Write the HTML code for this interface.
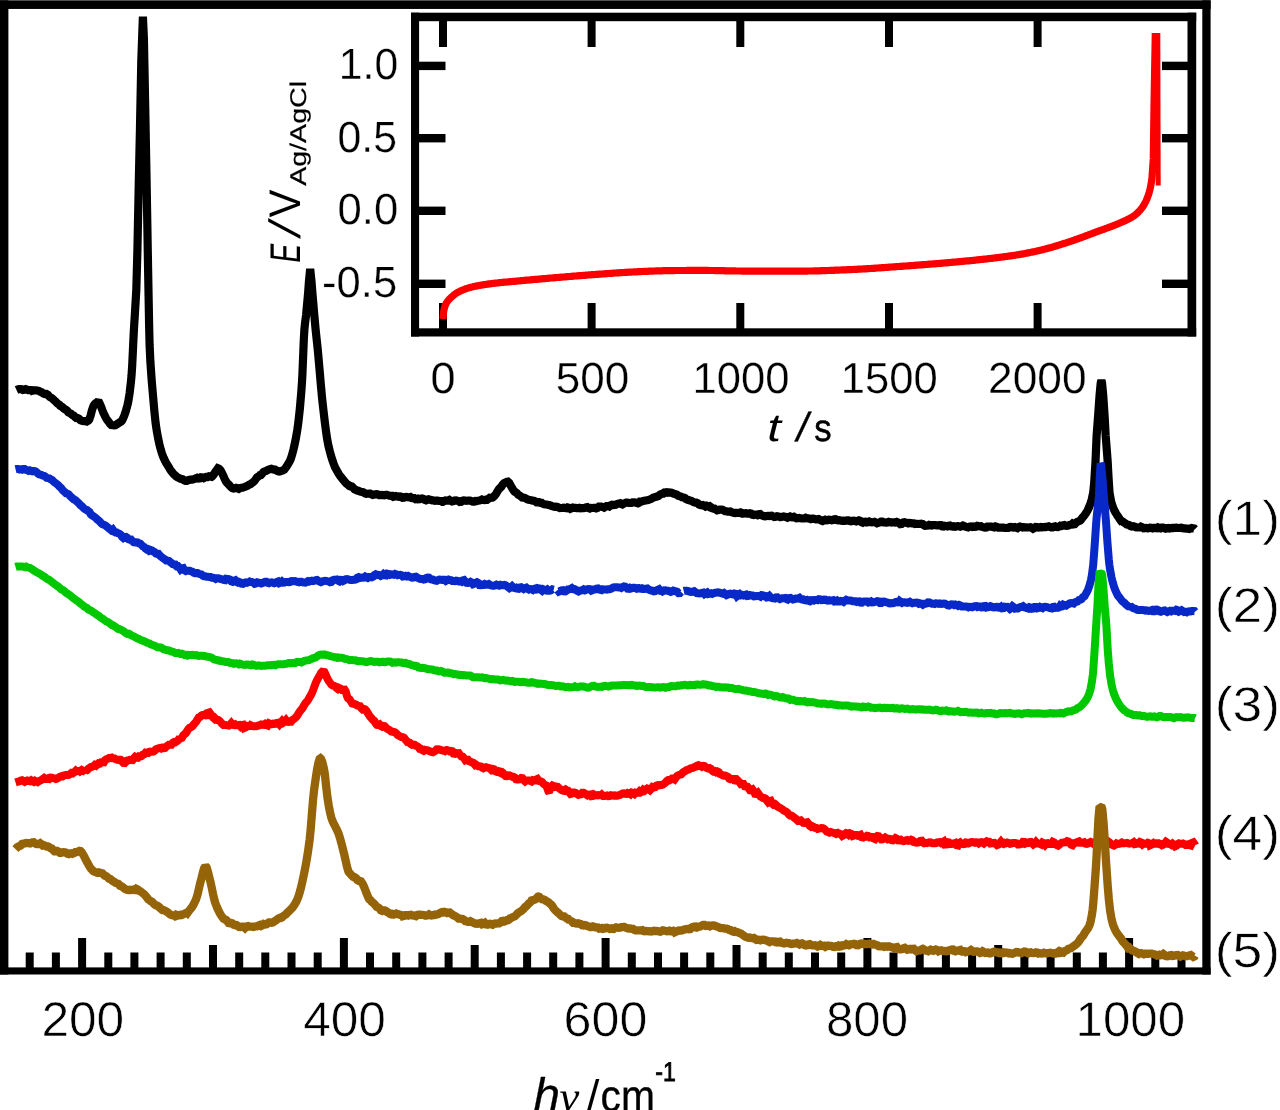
<!DOCTYPE html>
<html lang="en">
<head>
<meta charset="utf-8">
<title>Raman spectra</title>
<style>html,body{margin:0;padding:0;background:#fff}body{width:1280px;height:1110px;overflow:hidden}svg{display:block}</style>
</head>
<body>
<svg width="1280" height="1110" viewBox="0 0 1280 1110">
<rect width="1280" height="1110" fill="#fff"/>
<g fill="#000"><rect x="0" y="0.33" width="8.40" height="974.17"/><rect x="1202.3" y="0.33" width="8.30" height="974.17"/><rect x="0" y="0.33" width="1210.60" height="8.62"/><rect x="0" y="967.4" width="1210.60" height="7.10"/><rect x="411.0" y="12.7" width="8.10" height="323.80"/><rect x="1187.5" y="12.7" width="8.70" height="323.80"/><rect x="411.0" y="12.7" width="785.20" height="8.50"/><rect x="411.0" y="328.3" width="785.20" height="8.20"/></g>
<g fill="#000"><rect x="25.7" y="952.5" width="8" height="15.5"/><rect x="51.9" y="952.5" width="8" height="15.5"/><rect x="78.1" y="938" width="8" height="30"/><rect x="104.3" y="952.5" width="8" height="15.5"/><rect x="130.4" y="952.5" width="8" height="15.5"/><rect x="156.6" y="952.5" width="8" height="15.5"/><rect x="182.8" y="952.5" width="8" height="15.5"/><rect x="209.0" y="945" width="8" height="23"/><rect x="235.2" y="952.5" width="8" height="15.5"/><rect x="261.3" y="952.5" width="8" height="15.5"/><rect x="287.5" y="952.5" width="8" height="15.5"/><rect x="313.7" y="952.5" width="8" height="15.5"/><rect x="339.9" y="938" width="8" height="30"/><rect x="366.0" y="952.5" width="8" height="15.5"/><rect x="392.2" y="952.5" width="8" height="15.5"/><rect x="418.4" y="952.5" width="8" height="15.5"/><rect x="444.6" y="952.5" width="8" height="15.5"/><rect x="470.7" y="945" width="8" height="23"/><rect x="496.9" y="952.5" width="8" height="15.5"/><rect x="523.1" y="952.5" width="8" height="15.5"/><rect x="549.2" y="952.5" width="8" height="15.5"/><rect x="575.4" y="952.5" width="8" height="15.5"/><rect x="601.6" y="938" width="8" height="30"/><rect x="627.8" y="952.5" width="8" height="15.5"/><rect x="654.0" y="952.5" width="8" height="15.5"/><rect x="680.1" y="952.5" width="8" height="15.5"/><rect x="706.3" y="952.5" width="8" height="15.5"/><rect x="732.5" y="945" width="8" height="23"/><rect x="758.7" y="952.5" width="8" height="15.5"/><rect x="784.8" y="952.5" width="8" height="15.5"/><rect x="811.0" y="952.5" width="8" height="15.5"/><rect x="837.2" y="952.5" width="8" height="15.5"/><rect x="863.4" y="938" width="8" height="30"/><rect x="889.5" y="952.5" width="8" height="15.5"/><rect x="915.7" y="952.5" width="8" height="15.5"/><rect x="941.9" y="952.5" width="8" height="15.5"/><rect x="968.1" y="952.5" width="8" height="15.5"/><rect x="994.2" y="945" width="8" height="23"/><rect x="1020.4" y="952.5" width="8" height="15.5"/><rect x="1046.6" y="952.5" width="8" height="15.5"/><rect x="1072.8" y="952.5" width="8" height="15.5"/><rect x="1098.9" y="952.5" width="8" height="15.5"/><rect x="1125.1" y="938" width="8" height="30"/><rect x="1151.3" y="952.5" width="8" height="15.5"/><rect x="1177.5" y="952.5" width="8" height="15.5"/><rect x="439.0" y="20" width="8" height="27"/><rect x="439.0" y="303" width="8" height="27"/><rect x="587.6" y="20" width="8" height="27"/><rect x="587.6" y="303" width="8" height="27"/><rect x="736.3" y="20" width="8" height="27"/><rect x="736.3" y="303" width="8" height="27"/><rect x="885.0" y="20" width="8" height="27"/><rect x="885.0" y="303" width="8" height="27"/><rect x="1033.6" y="20" width="8" height="27"/><rect x="1033.6" y="303" width="8" height="27"/><rect x="418" y="61.7" width="27.5" height="8.4"/><rect x="1162" y="61.7" width="27" height="8.4"/><rect x="418" y="134.0" width="27.5" height="8.4"/><rect x="1162" y="134.0" width="27" height="8.4"/><rect x="418" y="206.6" width="27.5" height="8.4"/><rect x="1162" y="206.6" width="27" height="8.4"/><rect x="418" y="279.6" width="27.5" height="8.4"/><rect x="1162" y="279.6" width="27" height="8.4"/></g>
<g fill="none" stroke-linejoin="miter" stroke-miterlimit="1.6" stroke-linecap="butt">
<path d="M16.5,390.0 17.8,389.4 19.1,389.2 20.4,389.1 21.7,389.2 23.0,390.0 24.0,389.8 25.6,389.2 26.9,389.6 28.2,390.1 29.5,390.2 30.8,390.0 32.1,390.1 32.5,390.7 33.4,390.4 34.7,390.3 36.0,390.4 37.3,390.5 38.6,390.8 39.9,391.6 41.2,392.1 42.5,392.8 43.8,393.7 45.0,394.0 46.4,393.9 47.7,394.6 49.0,396.2 50.3,397.3 51.6,398.0 52.9,399.0 54.2,400.3 55.5,401.4 56.8,402.9 58.1,404.0 59.4,404.8 60.0,405.7 60.7,406.1 62.0,406.9 63.3,408.0 64.6,409.1 65.9,409.8 67.2,410.8 68.5,412.4 69.8,413.0 71.1,413.8 72.4,415.1 73.7,415.6 75.0,416.9 76.3,418.0 77.6,418.1 78.9,418.7 80.2,420.0 81.5,420.6 82.8,421.0 84.0,421.2 85.4,421.1 86.7,421.5 88.0,420.8 88.5,420.4 89.3,419.5 90.6,415.6 91.9,410.5 93.5,405.8 94.5,404.4 95.8,403.0 97.1,402.3 98.0,401.4 98.4,401.0 99.7,403.4 101.0,406.5 102.3,410.0 103.5,413.0 104.9,415.9 106.2,418.4 107.5,420.4 108.0,420.9 108.8,421.9 110.1,423.8 111.4,425.1 113.0,425.3 114.0,425.4 115.3,425.2 116.6,424.5 117.9,423.5 119.2,422.7 120.5,421.8 121.0,421.6 121.8,420.9 123.1,418.5 124.4,415.4 125.7,411.5 127.0,406.9 127.5,405.0 128.3,401.4 129.6,393.3 130.9,382.2 131.5,376.0 132.2,365.4 133.5,337.8 134.0,328.0 134.8,315.6 136.3,290.0 137.4,250.9 138.7,187.0 139.5,150.0 140.0,127.1 141.3,60.9 142.9,16.6 143.9,38.6 145.2,106.3 146.0,150.0 146.5,176.2 147.8,252.5 148.6,297.0 149.1,324.3 149.6,345.0 150.4,362.1 151.7,380.5 152.7,392.0 154.3,410.5 155.6,422.9 156.3,428.0 156.9,431.6 158.2,438.7 159.5,444.7 160.8,449.7 162.1,453.9 162.5,454.9 163.4,457.3 164.7,460.1 166.0,462.7 167.3,464.7 168.6,466.8 170.0,469.3 171.2,471.0 172.5,472.7 173.8,474.3 175.0,475.2 176.4,476.5 177.7,477.5 179.0,478.0 180.3,478.6 181.6,479.1 182.9,479.4 184.2,480.3 185.5,480.8 186.0,480.8 186.8,480.8 188.1,480.2 189.4,479.9 190.7,479.7 192.0,479.6 193.3,479.3 194.6,478.9 195.9,478.3 197.2,477.8 198.5,478.5 200.0,478.3 201.1,477.3 202.4,477.5 203.7,478.2 205.0,477.5 206.3,476.9 207.6,477.0 208.9,476.3 210.2,476.6 211.5,476.9 212.0,476.5 212.8,475.8 214.1,473.9 215.4,471.8 216.0,470.9 216.7,470.0 218.0,468.2 218.8,468.5 219.3,468.9 220.6,470.4 222.0,473.0 223.2,475.5 224.5,478.6 226.0,481.5 227.1,482.9 228.4,484.2 229.7,485.6 231.0,487.1 232.3,488.2 233.6,488.6 235.0,488.4 236.2,487.8 237.5,488.2 238.8,488.8 240.1,488.1 241.4,487.7 242.7,487.6 244.0,487.2 245.3,486.8 246.6,486.0 247.5,485.8 247.9,485.4 249.2,484.6 250.5,484.1 251.8,483.0 253.1,482.2 254.4,481.1 255.7,479.2 257.0,477.3 258.3,476.6 259.6,475.7 260.0,475.2 260.9,475.1 262.2,473.7 263.5,471.9 264.8,471.3 266.1,471.0 267.4,470.1 268.7,469.6 270.0,469.2 271.3,468.8 272.6,469.2 273.9,469.7 275.2,469.6 276.5,470.4 277.8,471.2 279.1,471.5 280.4,471.3 281.0,471.0 281.7,470.9 283.0,470.3 284.3,469.5 285.6,467.9 286.9,466.0 288.2,463.9 289.5,461.7 290.0,460.6 290.8,458.7 292.1,454.7 293.4,449.7 294.5,445.0 296.0,437.7 297.3,429.9 298.0,425.0 298.6,420.3 299.9,408.3 301.2,393.1 302.0,382.0 302.5,372.4 303.8,339.9 304.4,329.3 305.1,322.7 306.1,315.0 307.7,297.7 308.2,292.0 309.0,280.8 310.2,268.9 311.6,282.7 312.3,292.0 312.9,298.8 314.3,315.0 315.6,329.3 316.8,340.6 317.8,350.0 319.4,367.8 320.7,383.1 322.0,397.3 322.5,402.0 323.3,409.1 324.6,420.2 325.9,430.5 327.2,439.3 328.5,446.0 329.8,451.3 331.1,456.1 332.4,460.2 333.7,463.9 335.0,467.2 336.3,469.6 337.5,471.7 338.9,474.2 340.2,476.1 341.5,477.7 342.8,479.3 344.1,480.9 345.4,482.5 346.7,483.8 348.0,484.7 349.3,485.9 350.0,486.2 350.6,486.1 351.9,486.6 353.2,487.9 354.5,489.4 355.8,489.9 357.1,490.5 358.4,490.8 359.7,491.3 361.0,491.7 362.3,492.0 363.6,492.5 364.9,493.4 366.2,493.9 367.5,493.7 368.8,493.5 370.1,493.5 371.4,494.4 372.7,494.9 374.0,494.6 375.3,494.4 376.6,494.2 377.9,494.4 379.2,495.2 380.5,495.2 381.8,494.9 383.1,495.1 384.4,495.3 385.7,494.9 387.0,494.9 388.3,495.3 389.6,495.7 390.9,495.9 392.5,495.9 393.5,496.8 394.8,496.6 396.1,496.1 397.4,496.4 398.7,496.7 400.0,496.4 401.3,496.7 402.6,497.8 403.9,497.7 405.2,497.1 406.5,497.0 407.8,497.3 409.1,497.4 410.4,497.0 411.7,498.0 413.0,498.2 414.3,498.2 415.6,499.2 416.9,499.0 417.5,498.8 418.2,499.4 419.5,499.3 420.8,498.6 422.1,498.4 423.4,498.8 424.7,499.9 426.0,500.3 427.3,499.7 428.6,499.3 429.9,499.6 431.2,500.1 432.5,500.4 433.8,500.5 435.1,500.8 436.4,500.7 437.7,500.7 439.0,501.0 440.3,501.0 441.6,501.1 442.5,501.8 442.9,501.8 444.2,501.2 445.5,500.5 446.8,500.6 448.1,500.5 449.4,499.9 450.7,500.8 452.0,501.5 453.3,501.2 454.6,500.4 455.9,500.3 457.2,500.7 458.5,501.0 459.8,502.0 461.1,501.8 462.4,500.8 463.7,500.4 465.0,500.6 466.3,500.9 467.6,500.6 468.9,500.7 470.2,500.7 471.5,501.0 472.8,501.7 474.1,501.7 475.0,501.2 475.4,501.0 476.7,501.1 478.0,500.7 479.3,500.5 480.6,500.1 481.9,499.5 483.2,500.0 484.5,500.1 485.8,499.6 487.1,499.7 488.4,498.7 489.7,497.7 491.0,497.9 492.5,497.7 493.6,496.8 494.9,495.4 496.2,493.6 497.5,491.3 498.8,489.2 500.0,488.0 501.4,486.6 502.7,484.5 504.0,483.2 505.3,482.6 506.6,482.2 507.0,481.8 507.9,481.6 509.2,482.8 510.5,485.2 511.8,487.5 513.1,489.7 514.4,491.5 515.0,491.9 515.7,492.3 517.0,493.2 518.3,494.8 519.6,495.5 520.9,496.4 522.2,497.5 523.5,497.6 525.0,498.0 526.1,498.7 527.4,499.3 528.7,499.7 530.0,499.9 531.3,500.3 532.6,500.6 533.9,500.7 535.2,501.3 536.5,502.3 537.8,502.2 539.1,502.2 540.4,502.8 541.7,502.8 542.5,503.5 543.0,503.7 544.3,504.3 545.6,504.5 546.9,504.5 548.2,505.0 549.5,505.0 550.8,505.6 552.1,506.1 553.4,506.5 554.7,506.8 556.0,506.6 557.3,506.9 558.6,507.5 559.9,508.1 561.2,508.0 562.5,507.9 563.8,507.7 565.1,508.1 566.4,508.3 567.5,507.5 569.0,507.9 570.3,508.8 571.6,508.3 572.9,507.6 574.2,507.8 575.5,507.8 576.8,508.2 578.1,508.2 579.4,507.8 580.7,508.3 582.0,508.2 583.3,508.1 584.6,508.0 585.9,507.4 587.2,507.1 588.5,508.1 589.8,508.5 591.1,507.9 592.4,508.0 593.7,507.9 595.0,507.8 596.3,508.3 597.6,507.9 598.9,506.7 600.0,506.7 601.5,506.6 602.8,507.0 604.1,507.6 605.4,506.8 606.7,505.9 608.0,505.8 609.3,506.4 610.6,505.3 611.9,504.8 613.2,505.1 614.5,504.9 615.8,504.7 617.1,504.0 618.4,503.6 620.0,503.2 621.0,504.0 622.3,504.5 623.6,503.7 624.9,503.1 626.2,502.5 627.5,502.5 628.8,503.0 630.1,503.0 631.4,502.9 632.7,502.4 634.0,502.3 635.3,502.6 636.6,502.9 637.9,503.3 639.2,502.7 640.0,501.7 640.5,501.7 641.8,501.5 643.1,501.0 644.4,500.8 645.7,500.4 647.0,500.2 648.3,500.0 649.6,499.5 650.9,499.0 652.2,498.3 653.5,497.5 655.0,497.1 656.1,496.8 657.4,496.3 658.7,495.8 660.0,494.7 661.3,494.0 662.6,493.5 663.5,493.0 663.9,493.2 665.2,492.4 666.5,492.2 667.8,492.7 668.5,492.6 669.1,492.4 670.4,492.6 671.7,492.8 673.0,493.3 673.5,493.5 674.3,493.9 675.6,494.2 676.9,494.7 678.2,495.7 679.5,496.1 680.8,496.5 682.1,497.3 683.4,497.5 685.0,498.1 686.0,499.1 687.3,499.6 688.6,500.1 689.9,500.4 691.2,500.7 692.5,501.6 693.8,502.3 695.1,502.7 696.4,502.6 697.7,503.2 699.0,504.5 700.3,505.1 701.6,505.3 702.9,505.0 704.2,505.6 705.5,506.5 706.8,505.8 708.1,506.3 709.4,507.0 710.0,506.6 710.7,507.1 712.0,508.2 713.3,508.6 714.6,508.6 715.9,509.5 717.2,510.3 718.5,510.0 719.8,509.6 721.1,509.5 722.4,509.7 723.7,510.5 725.0,511.1 726.3,511.2 727.6,511.7 728.9,511.6 730.2,511.5 731.5,512.2 732.8,512.6 734.1,512.9 735.4,513.1 736.7,512.8 738.0,513.0 739.3,512.9 740.6,512.4 741.9,513.1 742.5,513.7 743.2,513.7 744.5,513.3 745.8,513.2 747.1,513.7 748.4,513.6 749.7,513.2 751.0,513.5 752.3,514.7 753.6,515.0 754.9,514.6 756.2,514.6 757.5,515.1 758.8,514.3 760.1,514.1 761.4,515.3 762.7,515.7 764.0,516.2 765.3,516.4 766.6,516.0 767.9,515.8 769.2,516.1 770.5,515.9 771.8,515.7 773.1,516.3 774.4,517.0 775.7,516.8 777.0,516.2 778.3,516.4 779.6,517.0 780.0,516.9 780.9,517.0 782.2,516.8 783.5,516.4 784.8,516.7 786.1,517.2 787.4,517.7 788.7,517.0 790.0,516.5 791.3,517.2 792.6,517.3 793.9,516.8 795.2,517.5 796.5,518.3 797.8,518.2 799.1,518.0 800.4,518.2 801.7,518.4 803.0,518.5 804.3,518.4 805.6,517.8 806.9,518.3 808.2,518.4 809.5,518.7 810.8,519.1 812.1,518.7 813.4,518.7 814.7,519.0 816.0,519.3 817.3,519.3 818.6,519.0 819.9,519.7 821.2,520.6 822.5,521.0 823.8,520.3 825.1,519.8 826.4,520.4 827.7,520.3 829.0,519.6 830.0,519.7 831.6,520.3 832.9,520.0 834.2,519.4 835.5,519.3 836.8,520.1 838.1,520.4 839.4,520.2 840.7,520.6 842.0,520.9 843.3,520.7 844.6,520.8 845.9,520.6 847.2,520.4 848.5,520.4 849.8,521.0 851.1,521.3 852.4,520.8 853.7,520.7 855.0,521.0 856.3,521.4 857.6,520.9 858.9,520.4 860.2,520.9 861.5,522.1 862.8,522.6 864.1,521.8 865.4,521.7 866.7,522.5 868.0,522.2 869.3,521.5 870.6,522.0 871.9,522.4 873.2,522.2 874.5,521.9 875.8,522.4 877.1,523.2 878.4,522.8 879.7,522.5 881.0,521.7 882.3,521.7 883.6,522.4 884.9,522.4 886.2,522.7 887.5,522.5 888.8,521.8 890.1,522.1 891.4,522.5 892.7,522.3 894.0,522.4 895.3,522.5 896.6,522.0 897.9,522.5 899.2,523.4 900.0,523.4 900.5,524.0 901.8,523.8 903.1,522.6 904.4,522.3 905.7,522.6 907.0,522.8 908.3,523.3 909.6,522.9 910.9,523.1 912.2,523.3 913.5,523.4 914.8,524.0 916.1,523.8 917.4,523.9 918.7,524.0 920.0,523.9 921.3,523.6 922.6,523.9 923.9,525.1 925.2,525.9 926.5,525.8 927.8,525.5 929.1,524.9 930.4,525.2 931.7,525.5 933.0,525.1 934.3,525.1 935.6,525.2 936.9,525.3 938.2,525.3 939.5,525.1 940.8,525.1 942.1,526.3 943.4,526.5 944.7,525.7 946.0,525.9 947.3,526.3 948.6,525.8 950.0,525.6 951.2,526.3 952.5,526.5 953.8,526.3 955.1,526.7 956.4,526.5 957.7,526.1 959.0,526.2 960.3,526.7 961.6,526.3 962.9,525.6 964.2,526.1 965.5,526.6 966.8,527.0 968.1,527.3 969.4,526.6 970.7,526.4 972.0,526.9 973.3,526.5 974.6,526.8 975.9,526.7 977.2,525.9 978.5,526.1 979.8,526.4 981.1,526.3 982.4,527.0 983.7,527.3 985.0,527.7 986.3,527.6 987.6,526.6 988.9,526.5 990.2,526.7 991.5,526.6 992.8,527.0 994.1,527.3 995.4,526.5 996.7,526.9 998.0,527.6 999.3,527.5 1000.6,527.6 1001.9,527.7 1003.2,527.7 1004.5,527.9 1005.8,528.0 1007.1,527.8 1008.4,527.8 1009.7,527.1 1011.0,527.0 1012.5,527.4 1013.6,527.5 1014.9,527.1 1016.2,527.6 1017.5,528.1 1018.8,527.1 1020.1,526.5 1021.4,526.8 1022.7,527.4 1024.0,527.2 1025.3,527.3 1026.6,527.3 1027.9,527.5 1029.2,527.4 1030.5,527.2 1031.8,527.8 1033.1,528.7 1034.4,528.0 1035.7,527.0 1037.0,527.1 1038.3,527.5 1039.6,527.4 1040.9,527.0 1042.2,527.3 1043.5,527.2 1044.8,526.9 1046.1,527.0 1047.4,526.6 1048.7,526.3 1050.0,526.9 1051.3,527.4 1052.6,527.4 1053.9,526.6 1055.2,526.3 1056.5,527.0 1057.8,527.1 1059.1,526.6 1060.0,526.0 1060.4,526.2 1061.7,526.1 1063.0,525.3 1064.3,525.0 1065.6,525.7 1066.9,525.8 1068.2,525.5 1069.5,525.0 1070.8,524.6 1072.1,524.2 1072.5,523.8 1073.4,524.4 1074.7,524.2 1076.0,522.7 1077.3,521.8 1078.6,521.3 1079.9,520.7 1081.0,519.7 1082.5,517.6 1083.8,516.1 1085.1,514.4 1086.0,513.0 1086.4,512.5 1087.7,510.2 1089.0,507.3 1089.5,506.0 1090.3,503.9 1091.6,500.1 1093.2,492.6 1094.2,482.7 1095.5,462.0 1096.6,436.0 1098.1,416.0 1099.6,395.0 1100.7,383.2 1101.4,380.3 1102.0,382.4 1103.2,395.0 1104.6,416.0 1105.7,436.0 1107.2,455.2 1107.7,462.0 1108.5,476.9 1109.5,492.6 1111.1,501.4 1112.5,505.9 1113.7,509.1 1115.0,511.7 1116.0,513.4 1117.6,515.9 1118.9,517.8 1120.2,519.9 1121.0,520.9 1121.5,520.8 1122.8,521.6 1124.1,522.7 1125.4,523.4 1126.7,524.5 1128.0,524.8 1129.3,525.2 1130.0,525.8 1130.6,526.1 1131.9,526.5 1133.2,526.2 1134.5,526.5 1135.8,527.3 1137.1,527.4 1138.4,527.5 1140.0,527.5 1141.0,526.7 1142.3,527.3 1143.6,528.3 1144.9,528.1 1146.2,528.0 1147.5,528.3 1148.8,528.2 1150.0,527.6 1151.4,527.7 1152.7,528.3 1154.0,527.9 1155.3,527.9 1156.6,528.2 1157.9,527.4 1159.2,528.1 1160.5,528.4 1161.8,527.5 1163.1,527.5 1164.4,528.2 1165.7,528.7 1167.0,528.3 1168.3,528.0 1169.6,528.4 1170.9,528.0 1172.2,527.9 1173.5,528.1 1174.8,527.8 1176.1,527.7 1177.4,527.9 1178.7,528.0 1180.0,527.8 1181.3,527.7 1182.6,528.2 1183.9,528.4 1185.2,528.4 1186.5,528.7 1187.8,528.6 1189.1,528.9 1190.4,528.5 1191.7,528.0 1193.0,528.2 1194.3,528.5 1195.0,529.2" stroke="#000000" stroke-width="8.2"/>
<path d="M15.5,469.2 16.8,468.9 18.1,468.9 19.4,469.4 20.7,469.3 22.0,469.7 23.3,468.9 24.6,468.9 25.9,469.8 27.2,470.2 28.5,470.9 29.8,470.3 31.1,470.9 32.5,471.3 33.7,471.0 35.0,471.1 36.3,471.9 37.6,473.3 38.9,474.2 40.2,474.5 41.5,475.0 42.8,475.7 44.1,475.8 45.4,476.7 46.7,477.8 48.0,478.2 49.3,478.4 50.0,478.8 50.6,479.3 51.9,479.9 53.2,481.2 54.5,482.4 55.8,483.2 57.1,484.2 58.4,485.4 59.7,486.9 61.0,487.9 62.3,489.6 63.6,491.0 65.0,492.2 66.2,493.4 67.5,493.8 68.8,494.5 70.1,496.0 71.4,497.3 72.7,498.4 74.0,499.5 75.3,500.1 76.6,501.3 77.9,502.4 79.2,503.7 80.5,505.3 81.8,506.2 83.1,507.5 84.4,508.9 85.7,509.6 87.0,510.0 87.5,510.6 88.3,511.1 89.6,512.2 90.9,514.5 92.2,515.5 93.5,516.3 94.8,517.2 96.1,518.2 97.4,519.6 98.7,520.5 100.0,521.8 101.3,523.4 102.6,524.3 103.9,524.7 105.2,525.3 106.5,526.4 107.8,527.5 109.1,528.5 110.4,529.5 111.7,530.6 112.5,530.4 113.0,529.9 114.3,531.8 115.6,532.6 116.9,532.6 118.2,533.4 119.5,533.8 120.8,534.7 122.1,536.9 123.4,538.0 124.7,537.2 126.0,537.0 127.3,537.9 128.6,539.3 129.9,539.8 131.2,539.7 132.5,541.1 133.8,542.3 135.1,542.5 136.4,542.3 137.5,542.4 139.0,543.4 140.3,543.7 141.6,545.0 142.9,546.3 144.2,546.9 145.5,548.6 146.8,549.5 148.1,549.0 149.4,549.6 150.0,550.8 150.7,550.6 152.0,550.5 153.3,551.5 154.6,552.1 155.9,553.5 157.2,554.0 158.5,553.9 159.8,555.5 161.1,556.7 162.4,557.7 163.7,558.7 165.0,559.4 166.3,560.5 167.6,560.6 168.9,560.9 170.2,562.2 171.5,563.0 172.8,564.1 174.1,564.3 175.0,564.4 175.4,565.2 176.7,566.3 178.0,566.2 179.3,567.5 180.6,569.4 181.9,568.4 183.2,568.1 184.5,570.4 185.8,571.1 187.1,570.6 188.4,570.7 189.7,570.8 191.0,571.3 192.3,571.7 193.6,572.6 194.9,573.1 196.2,573.0 197.5,573.0 198.8,573.6 200.0,574.1 201.4,574.4 202.7,575.6 204.0,576.2 205.3,576.3 206.6,576.7 207.9,576.8 209.2,576.9 210.5,577.0 211.8,577.7 213.1,577.7 214.4,578.2 215.7,579.0 217.0,578.3 218.3,578.3 219.6,578.6 220.9,579.1 222.2,579.3 223.5,580.0 225.0,580.2 226.1,578.7 227.4,578.9 228.7,579.2 230.0,579.7 231.3,581.3 232.6,581.8 233.9,580.8 235.2,580.3 236.5,582.0 237.8,582.6 239.1,581.9 240.4,582.4 241.7,583.7 243.0,583.9 244.3,582.9 245.6,582.5 246.9,582.8 248.2,582.4 249.5,581.7 250.0,582.0 250.8,582.1 252.1,582.1 253.4,582.6 254.7,583.8 256.0,583.4 257.3,582.3 258.6,582.6 259.9,582.9 261.2,583.5 262.5,583.1 263.8,582.2 265.1,581.7 266.4,581.7 267.7,582.8 269.0,583.2 270.3,582.5 271.6,582.3 272.9,582.8 274.2,583.3 275.0,583.0 275.5,582.6 276.8,582.0 278.1,581.5 279.4,583.1 280.7,582.6 282.0,581.5 283.3,582.6 284.6,582.5 285.9,581.9 287.2,581.9 288.5,582.2 289.8,582.1 291.1,581.1 292.4,581.0 293.7,581.3 295.0,581.1 296.3,581.5 297.6,582.0 298.9,582.3 300.0,581.7 301.5,581.7 302.8,582.4 304.1,582.5 305.4,582.6 306.7,582.0 308.0,581.2 309.3,581.6 310.6,581.1 311.9,580.7 313.2,581.1 314.5,580.8 315.8,580.2 317.1,580.0 318.4,580.8 319.7,581.6 321.0,582.1 322.3,581.6 323.6,581.0 324.9,580.7 326.2,580.9 327.5,581.2 328.8,581.3 330.1,582.2 331.4,581.9 332.5,580.3 334.0,579.8 335.3,579.8 336.6,579.5 337.9,580.7 339.2,581.3 340.5,579.8 341.8,579.9 343.1,581.0 344.4,580.4 345.7,579.3 347.0,579.1 348.3,579.4 349.6,579.7 350.9,579.9 352.2,580.0 353.5,579.8 354.8,579.7 356.1,579.3 357.4,577.7 358.7,577.2 360.0,577.9 361.3,577.6 362.5,577.8 363.9,577.6 365.2,576.6 366.5,577.3 367.8,577.9 369.1,577.1 370.4,577.1 371.7,577.3 373.0,576.8 374.3,575.0 375.6,574.3 376.9,575.1 378.2,574.8 379.5,575.0 380.8,575.9 382.1,575.4 383.4,574.2 384.7,575.3 386.0,575.5 387.3,573.8 388.6,574.1 389.9,574.9 391.2,574.4 392.5,574.5 393.8,574.7 395.1,573.9 396.4,574.3 397.7,575.2 399.0,574.9 400.3,574.8 401.6,575.2 402.9,576.5 404.2,576.4 405.5,575.9 406.8,576.4 408.1,575.9 409.4,576.5 410.7,577.2 412.0,577.7 413.3,577.6 414.6,576.9 415.9,576.7 417.2,577.5 418.5,578.2 419.8,578.8 421.1,578.9 422.4,578.9 423.7,579.6 425.0,579.3 426.3,578.0 427.6,577.5 428.9,577.6 430.2,579.0 431.5,579.4 432.8,579.4 434.1,580.2 435.4,580.5 436.7,580.8 438.0,580.0 439.3,579.5 440.6,579.7 441.9,580.0 443.2,579.8 444.5,579.8 445.8,580.9 447.1,580.2 448.4,579.6 449.7,580.1 451.0,580.2 452.3,581.1 453.6,581.1 454.9,581.2 456.2,580.6 457.5,580.8 458.8,581.4 460.1,581.3 461.4,581.8 462.5,580.4 464.0,580.0 465.3,581.5 466.6,582.8 467.9,582.9 469.2,582.5 470.5,581.8 471.8,582.5 473.1,584.2 474.4,583.7 475.7,582.9 477.0,582.3 478.3,583.0 479.6,585.2 480.9,585.3 482.2,584.8 483.5,584.9 484.8,584.0 486.1,584.5 487.4,584.6 488.7,584.0 490.0,584.9 491.3,585.5 492.6,585.8 493.9,585.7 495.2,585.3 496.5,584.6 497.8,585.2 499.1,585.6 500.0,585.0 500.4,584.8 501.7,585.3 503.0,585.2 504.3,584.9 505.6,585.2 506.9,586.1 508.2,587.2 509.5,588.2 510.8,587.5 512.1,586.3 513.4,587.6 514.7,588.0 516.0,587.6 517.3,588.6 518.6,588.8 519.9,587.5 521.2,587.2 522.5,588.1 523.8,589.0 525.1,588.3 526.4,587.7 527.7,588.8 529.0,589.6 530.3,589.1 531.6,589.2 532.9,589.9 534.2,588.8 535.5,588.4 536.8,589.5 537.5,589.4 538.1,588.2 539.4,588.4 540.7,589.8 542.0,590.7 543.3,589.3 544.6,589.9 545.9,590.4 547.2,589.6 548.5,590.8 549.8,590.8 551.1,590.3 552.4,589.3 553.7,589.6 M557.6,590.0 558.9,591.6 560.2,591.1 561.5,590.4 562.8,590.2 564.1,591.4 565.4,591.5 566.7,590.7 568.0,589.4 569.3,589.3 570.6,588.8 571.9,588.1 573.2,589.2 574.5,589.6 575.0,589.4 575.8,589.9 577.1,590.9 578.4,591.5 579.7,590.6 581.0,590.5 582.3,590.2 583.6,589.4 584.9,590.2 586.2,589.7 587.5,589.1 588.8,589.0 590.1,589.2 591.4,590.6 592.7,590.1 594.0,589.4 595.3,589.3 596.6,588.6 597.9,588.4 599.2,589.6 600.0,591.3 600.5,590.9 601.8,589.3 603.1,589.3 604.4,589.4 605.7,589.4 607.0,589.6 608.3,589.2 609.6,589.2 610.9,588.7 612.2,588.1 613.5,587.4 614.8,587.3 616.1,587.3 617.4,587.3 618.7,587.4 620.0,587.4 621.3,588.0 622.6,587.2 623.9,586.5 625.2,586.7 626.5,587.4 627.5,588.7 629.1,588.8 630.4,587.8 631.7,588.2 633.0,587.7 634.3,587.8 635.6,588.3 636.9,586.4 638.2,588.1 639.5,590.4 640.8,588.8 642.1,588.3 643.4,588.8 644.7,589.0 646.0,588.6 647.3,588.4 648.6,589.5 649.9,590.1 651.2,590.6 652.5,590.7 653.8,591.4 655.1,591.2 656.4,590.3 657.7,589.9 659.0,589.3 660.3,590.9 661.6,591.1 662.5,590.8 662.9,591.2 664.2,590.5 665.5,590.4 666.8,590.7 668.1,590.7 669.4,591.3 670.7,591.9 672.0,591.3 673.3,590.6 674.6,591.0 675.9,591.4 677.2,591.8 678.5,593.2 679.8,593.1 681.1,591.8 M683.7,591.0 685.0,590.7 686.3,590.7 687.6,591.0 688.9,591.3 690.2,591.9 691.5,592.0 692.8,591.6 694.1,591.2 695.4,592.2 696.7,593.1 698.0,593.2 699.3,593.4 700.6,593.3 701.9,592.9 703.2,592.6 704.5,594.0 705.8,593.2 707.1,592.5 708.4,594.0 709.7,593.7 711.0,593.3 712.3,593.8 713.6,593.2 714.9,592.8 716.2,592.8 717.5,592.3 718.8,592.5 720.1,592.8 721.4,593.3 722.7,593.7 724.0,593.0 725.0,593.8 726.6,595.1 727.9,594.6 729.2,593.9 730.5,593.6 731.8,594.2 733.1,594.5 734.4,593.5 735.7,593.8 737.0,596.1 738.3,595.0 739.6,594.1 740.9,595.3 742.2,594.9 743.5,595.5 744.8,595.1 746.1,594.6 747.4,596.0 748.7,595.9 750.0,595.1 751.3,595.4 752.6,595.5 753.9,596.3 755.2,596.2 756.5,596.0 757.8,595.9 759.1,596.0 760.4,596.6 761.7,595.2 763.0,595.3 764.3,596.2 765.6,596.1 766.9,597.5 768.2,597.3 769.5,596.1 770.8,597.5 772.1,598.1 773.4,598.3 774.7,598.5 776.0,597.4 777.3,597.3 778.6,598.5 779.9,599.1 781.2,598.6 782.5,598.2 783.8,598.2 785.1,598.0 786.4,599.1 787.5,599.5 789.0,598.0 790.3,597.9 791.6,598.9 792.9,599.5 794.2,599.1 795.5,598.6 796.8,598.7 798.1,598.3 799.4,597.7 800.7,599.0 802.0,599.5 803.3,599.4 804.6,600.3 805.9,600.5 807.2,600.0 808.5,600.8 809.8,601.2 811.1,600.0 812.4,600.1 813.7,600.6 815.0,599.8 816.3,599.7 817.6,600.1 818.9,599.2 820.2,599.3 821.5,600.2 822.8,600.1 824.1,599.5 825.4,599.6 826.7,600.4 828.0,600.7 829.3,600.2 830.6,600.6 831.9,600.6 833.2,600.2 834.5,601.5 835.8,601.3 837.1,600.5 838.4,601.4 839.7,601.5 841.0,600.9 842.3,601.2 843.6,601.9 844.9,600.8 846.2,599.9 847.5,600.5 848.8,600.4 850.0,600.5 851.4,600.7 852.7,601.3 854.0,601.3 855.3,601.3 856.6,601.9 857.9,601.5 859.2,601.4 860.5,602.6 861.8,602.7 863.1,601.6 864.4,601.5 865.7,601.4 867.0,601.5 868.3,602.4 869.6,601.9 870.9,601.4 872.2,602.4 873.5,602.3 874.8,601.8 876.1,601.6 877.4,601.1 878.7,601.4 880.0,602.9 881.3,602.9 882.6,601.7 883.9,601.6 885.2,601.8 886.5,602.4 887.8,602.6 889.1,603.3 890.4,603.4 891.7,603.1 893.0,603.2 894.3,602.8 895.6,602.0 896.9,601.7 898.2,602.4 899.5,602.3 900.0,601.3 900.8,601.9 902.1,602.8 903.4,602.2 904.7,602.3 906.0,602.5 907.3,602.8 908.6,602.4 909.9,601.8 911.2,602.6 912.5,603.2 913.8,602.9 915.1,602.6 916.4,602.5 917.7,602.8 919.0,603.8 920.3,603.4 921.6,603.7 922.9,604.6 924.2,603.8 925.5,603.8 926.8,603.4 928.1,602.3 929.4,602.4 930.7,603.1 932.0,603.7 933.3,603.7 934.6,604.0 935.9,603.3 937.2,603.5 938.5,603.9 939.8,603.5 941.1,604.0 942.4,603.8 943.7,603.5 945.0,603.6 946.3,604.3 947.6,605.2 948.9,605.5 950.0,604.8 951.5,604.2 952.8,604.3 954.1,605.0 955.4,604.5 956.7,605.0 958.0,605.8 959.3,604.9 960.6,605.4 961.9,606.4 963.2,606.4 964.5,606.5 965.8,606.5 967.1,606.7 968.4,607.3 969.7,606.8 971.0,606.9 972.3,607.2 973.6,606.6 974.9,606.2 976.2,606.1 977.5,607.0 978.8,606.5 980.1,606.5 981.4,607.4 982.7,607.3 984.0,606.1 985.3,606.0 986.6,607.5 987.9,607.2 989.2,607.0 990.5,606.2 991.8,606.6 993.1,607.4 994.4,607.5 995.7,607.0 997.0,606.9 998.3,607.7 999.6,607.8 1000.0,607.4 1000.9,606.8 1002.2,608.3 1003.5,608.2 1004.8,606.8 1006.1,607.0 1007.4,606.9 1008.7,607.6 1010.0,608.9 1011.3,608.0 1012.6,606.3 1013.9,607.2 1015.2,608.6 1016.5,608.4 1017.8,608.5 1019.1,607.6 1020.4,607.0 1021.7,606.8 1023.0,606.2 1024.3,607.3 1025.6,607.6 1026.9,608.3 1028.2,608.6 1029.5,607.2 1030.8,607.6 1032.1,608.8 1033.4,608.6 1034.7,607.1 1036.0,607.1 1037.3,608.3 1038.6,607.9 1039.9,606.9 1041.2,607.6 1042.5,608.1 1043.8,607.0 1045.1,606.8 1046.4,607.0 1047.7,607.3 1049.0,607.7 1050.0,608.1 1051.6,608.4 1052.9,607.0 1054.2,606.8 1055.5,607.9 1056.8,607.8 1058.1,607.7 1059.4,607.1 1060.0,606.1 1060.7,606.7 1062.0,606.4 1063.3,604.7 1064.6,605.3 1066.0,605.6 1067.2,604.7 1068.5,604.1 1069.8,603.3 1071.1,603.1 1072.4,603.2 1073.7,603.5 1075.0,602.2 1076.3,601.8 1077.6,601.5 1078.9,600.0 1080.0,599.9 1081.5,599.1 1082.8,597.3 1084.1,596.5 1084.5,596.2 1085.4,594.6 1086.7,592.4 1088.0,589.7 1089.3,586.1 1090.9,580.3 1091.9,575.0 1093.2,565.0 1094.5,547.8 1094.9,542.0 1095.8,528.5 1096.5,519.0 1097.1,512.9 1098.4,501.7 1098.9,496.0 1099.7,478.2 1100.6,463.4 1101.0,464.3 1102.3,476.6 1103.8,496.0 1104.9,508.1 1105.8,519.0 1106.2,524.5 1107.4,542.0 1108.8,559.4 1109.4,565.0 1110.1,569.8 1111.4,576.8 1112.2,580.3 1112.7,582.2 1114.0,586.7 1115.0,589.4 1116.6,593.0 1117.9,595.6 1118.5,596.4 1119.2,597.2 1120.5,598.8 1121.8,600.7 1123.0,601.8 1124.4,602.7 1125.7,604.3 1127.0,605.4 1128.3,606.3 1129.6,606.4 1130.0,605.4 1130.9,606.4 1132.2,607.6 1133.5,608.2 1134.8,608.6 1136.1,609.1 1137.4,609.9 1138.7,610.1 1139.7,610.1 1141.3,610.1 1142.6,610.1 1143.9,610.2 1145.2,610.6 1146.5,610.4 1147.8,610.8 1149.1,611.0 1150.0,610.7 1150.4,610.7 1151.7,610.2 1153.0,611.3 1154.3,611.3 1155.6,609.7 1156.9,609.6 1158.2,610.1 1159.5,611.5 1160.8,611.8 1162.1,611.2 1163.4,610.7 1164.7,610.5 1166.0,611.3 1167.3,612.0 1168.6,611.4 1169.9,610.9 1171.2,611.4 1172.5,610.6 1173.8,610.5 1175.1,610.9 1176.4,609.8 1177.7,610.2 1179.0,611.6 1180.3,611.1 1181.6,610.3 1182.9,611.2 1184.2,612.0 1185.5,611.8 1186.8,612.3 1188.1,611.6 1189.4,611.3 1190.7,611.5 1192.0,611.0 1193.3,611.1 1194.6,611.2 1195.0,611.7" stroke="#0828c8" stroke-width="8.0"/>
<path d="M15.5,566.9 16.8,566.5 18.1,566.6 19.4,566.5 20.7,566.4 22.0,566.4 23.3,566.8 24.6,567.2 25.0,566.9 25.9,566.6 27.2,567.2 28.5,567.7 29.8,567.9 31.1,568.6 32.4,569.4 33.7,570.4 35.0,571.2 36.3,572.1 37.5,572.7 38.9,573.3 40.2,574.0 41.5,575.0 42.8,576.0 44.1,576.5 45.4,577.6 46.7,578.7 48.0,579.3 49.3,580.0 50.6,580.9 51.9,582.0 53.2,583.1 54.5,584.0 55.8,584.9 57.1,585.9 58.4,586.8 59.7,587.9 61.0,589.2 62.5,589.9 63.6,590.5 64.9,591.7 66.2,592.7 67.5,593.6 68.8,594.5 70.1,595.4 71.4,596.5 72.7,597.7 74.0,598.6 75.3,599.6 76.6,600.5 77.9,601.2 79.2,602.3 80.5,603.6 81.8,604.4 83.1,605.5 84.4,606.6 85.7,607.3 87.0,607.9 87.5,608.6 88.3,609.5 89.6,610.1 90.9,610.6 92.2,611.5 93.5,612.5 94.8,613.2 96.1,614.2 97.4,615.1 98.7,615.8 100.0,617.0 101.3,618.0 102.6,618.7 103.9,619.7 105.2,620.7 106.5,621.4 107.8,622.1 109.1,622.8 110.4,623.9 111.7,624.9 112.5,624.9 113.0,625.1 114.3,626.2 115.6,627.0 116.9,628.0 118.2,628.9 119.5,629.2 120.8,629.7 122.1,630.3 123.4,631.1 124.7,632.1 126.0,633.2 127.3,633.9 128.6,633.7 129.9,634.3 131.2,635.3 132.5,635.9 133.8,636.4 135.1,637.2 136.4,638.0 137.5,638.5 139.0,639.0 140.3,639.8 141.6,640.4 142.9,640.7 144.2,641.2 145.5,641.7 146.8,642.6 148.1,643.0 149.4,643.4 150.7,644.4 152.0,644.8 153.3,645.2 154.6,645.6 155.9,646.3 157.2,647.2 158.5,647.4 159.8,647.3 161.1,647.5 162.5,648.5 163.7,649.4 165.0,649.7 166.3,650.0 167.6,650.3 168.9,650.5 170.2,651.0 171.5,651.6 172.8,651.7 174.1,652.2 175.4,653.1 176.7,653.1 178.0,652.9 179.3,653.5 180.6,654.0 181.9,653.7 183.2,654.2 184.5,654.9 185.8,654.8 187.1,655.3 187.5,655.5 188.4,654.9 189.7,655.0 191.0,654.9 192.3,654.8 193.6,655.1 194.9,655.2 196.2,655.1 197.5,655.6 198.8,655.9 200.1,655.7 201.4,655.7 202.5,655.7 204.0,656.1 205.3,656.2 206.6,656.6 207.9,656.8 209.2,656.9 210.5,657.3 211.8,657.8 213.1,658.7 214.4,659.6 215.7,659.9 217.0,660.0 218.3,660.5 219.6,660.7 220.0,660.6 220.9,661.0 222.2,661.1 223.5,661.4 224.8,661.9 226.1,662.0 227.4,662.0 228.7,662.1 230.0,662.9 231.3,663.1 232.6,663.2 233.9,663.8 235.2,663.5 236.5,663.3 237.8,663.8 239.1,664.5 240.0,664.2 240.4,663.8 241.7,664.3 243.0,664.6 244.3,664.9 245.6,664.8 246.9,664.6 248.2,664.6 249.5,665.0 250.8,665.3 252.1,664.5 253.4,664.7 254.7,665.2 256.0,665.7 257.3,665.7 258.6,665.4 259.9,665.6 261.2,665.9 262.5,665.8 263.8,665.7 265.1,665.8 266.4,665.5 267.7,665.3 269.0,665.3 270.3,665.0 271.6,665.2 272.9,665.0 274.2,664.8 275.5,665.2 276.8,664.8 278.1,664.3 279.4,664.2 280.7,664.3 282.0,664.3 283.3,664.2 284.6,664.1 285.9,663.8 287.5,663.4 288.5,663.1 289.8,663.1 291.1,663.3 292.4,663.0 293.7,663.0 295.0,663.1 296.3,662.1 297.6,661.8 298.9,661.9 300.0,661.9 301.5,662.4 302.8,661.8 304.1,661.0 305.4,660.7 306.7,660.4 308.0,660.2 309.3,659.9 310.6,659.2 311.9,658.8 312.5,658.6 313.2,658.1 314.5,657.9 315.8,657.3 317.1,656.3 318.4,655.3 319.7,654.9 321.0,654.6 322.5,654.7 323.6,654.5 324.9,654.5 326.2,655.1 327.5,655.3 328.8,655.6 330.1,656.1 331.4,656.4 332.7,656.6 334.0,657.0 335.3,657.5 336.6,657.3 337.5,657.4 337.9,657.8 339.2,657.7 340.5,657.8 341.8,657.7 343.1,658.1 344.4,658.6 345.7,659.0 347.0,659.1 348.3,659.6 349.6,660.2 350.9,660.1 352.2,660.1 353.5,660.2 354.8,660.3 356.1,660.5 357.4,661.0 358.7,661.2 360.0,661.0 361.3,661.1 362.5,661.3 363.9,661.4 365.2,662.0 366.5,662.2 367.8,661.8 369.1,661.3 370.4,661.1 371.7,661.2 373.0,661.6 374.3,661.9 375.6,661.7 376.9,661.8 378.2,661.8 379.5,662.3 380.8,662.1 382.1,661.8 383.4,661.8 384.7,662.1 386.0,662.0 387.3,661.6 388.6,661.6 389.9,661.6 391.2,662.0 392.5,662.8 393.8,662.6 395.1,662.3 396.4,662.6 397.7,662.2 399.0,662.2 400.0,662.4 401.6,662.4 402.9,663.0 404.2,663.0 405.5,662.9 406.8,663.6 408.1,663.8 409.4,664.1 410.7,664.7 412.0,665.1 413.3,665.4 414.6,665.9 415.9,665.8 417.2,666.3 418.5,667.6 419.8,667.9 421.1,668.0 422.4,667.8 423.7,667.9 425.0,668.3 426.3,668.5 427.6,669.1 428.9,669.3 430.2,669.3 431.5,669.4 432.8,669.6 434.1,670.3 435.4,670.4 436.7,670.5 438.0,671.2 439.3,671.4 440.6,671.0 441.9,671.3 443.2,672.0 444.5,672.8 445.8,672.8 447.1,672.5 448.4,672.5 449.7,673.1 451.0,673.2 452.3,673.5 453.6,674.2 454.9,674.1 456.2,674.2 457.5,674.5 458.8,674.9 460.1,674.7 461.4,674.9 462.5,675.2 464.0,675.0 465.3,675.3 466.6,675.6 467.9,675.6 469.2,675.5 470.5,675.7 471.8,676.5 473.1,677.3 474.4,677.3 475.7,677.3 477.0,677.2 478.3,677.2 479.6,677.5 480.9,677.5 482.2,677.4 483.5,677.8 484.8,678.1 486.1,678.0 487.4,678.4 488.7,678.7 490.0,679.0 491.3,679.2 492.6,679.1 493.9,679.3 495.2,679.4 496.5,679.4 497.8,679.5 499.1,680.0 500.0,680.3 500.4,680.4 501.7,680.1 503.0,679.9 504.3,680.3 505.6,680.5 506.9,680.7 508.2,680.6 509.5,681.0 510.8,681.3 512.1,681.0 513.4,681.4 514.7,681.9 516.0,681.7 517.3,681.8 518.6,681.8 519.9,682.0 521.2,682.2 522.5,681.9 523.8,682.0 525.1,682.2 526.4,682.4 527.7,682.7 529.0,682.8 530.3,682.7 531.6,682.1 532.9,682.3 534.2,682.8 535.5,683.0 536.8,683.7 537.5,683.8 538.1,683.5 539.4,683.6 540.7,683.8 542.0,683.8 543.3,683.9 544.6,684.0 545.9,684.5 547.2,684.8 548.5,684.9 549.8,685.0 551.1,685.0 552.4,685.2 553.7,685.4 555.0,685.8 556.3,685.9 557.6,685.8 558.9,685.7 560.2,686.3 561.5,686.5 562.8,686.3 564.1,686.7 565.4,687.1 566.7,687.0 568.0,686.8 569.3,687.3 570.6,687.5 571.9,687.2 573.2,687.1 574.5,686.7 575.0,686.4 575.8,686.8 577.1,687.2 578.4,687.0 579.7,686.7 581.0,686.4 582.3,686.6 583.6,686.5 584.9,686.8 586.2,687.3 587.5,687.7 588.8,687.6 590.1,686.8 591.4,686.4 592.7,685.8 594.0,685.8 595.3,686.5 596.6,686.8 597.9,686.9 599.2,686.8 600.0,686.7 600.5,686.7 601.8,686.9 603.1,686.4 604.4,686.0 605.7,685.8 607.0,686.2 608.3,686.6 609.6,686.3 610.9,685.7 612.2,685.5 613.5,685.6 614.8,685.4 616.1,685.4 617.4,685.4 618.7,685.2 620.0,685.2 621.3,685.3 622.6,685.0 623.9,684.9 625.0,684.9 626.5,685.1 627.8,685.2 629.1,685.1 630.4,685.2 631.7,684.9 633.0,685.3 634.3,685.5 635.6,685.5 636.9,686.0 638.2,685.6 639.5,685.5 640.8,685.9 642.1,686.1 643.4,686.1 644.7,686.6 646.0,686.9 647.3,686.9 648.6,687.0 649.9,687.1 651.2,687.2 652.5,687.2 653.8,687.5 655.1,687.6 656.4,687.4 657.5,687.2 659.0,687.3 660.3,687.6 661.6,687.4 662.9,687.1 664.2,687.2 665.5,687.8 666.8,687.5 668.1,686.9 669.4,686.9 670.7,686.2 672.0,686.0 673.3,686.2 674.6,686.3 675.9,686.3 677.2,685.7 678.5,685.5 679.8,685.6 681.1,685.3 682.4,685.2 683.7,684.9 685.0,684.7 686.3,685.0 687.6,685.4 688.9,685.3 690.2,684.8 691.5,684.9 692.8,685.0 694.1,685.1 695.0,685.1 695.4,684.7 696.7,684.5 698.0,684.6 699.3,684.7 700.6,684.8 701.9,684.6 703.2,684.2 704.5,684.4 705.8,684.5 707.1,684.8 708.4,685.4 709.7,685.2 711.0,685.5 712.3,686.1 713.6,686.2 714.9,686.5 716.2,687.1 717.5,686.7 718.8,686.7 720.1,687.2 721.4,687.2 722.7,687.5 724.0,687.4 725.0,687.2 726.6,687.4 727.9,687.5 729.2,687.9 730.5,687.9 731.8,687.9 733.1,688.5 734.4,688.9 735.7,689.0 737.0,688.9 738.3,688.8 739.6,689.3 740.9,689.7 742.2,689.9 743.5,690.3 744.8,690.6 746.1,690.6 747.4,690.9 748.7,691.2 750.0,691.3 751.3,691.7 752.6,692.1 753.9,692.1 755.2,692.2 756.5,692.5 757.8,693.0 759.1,693.3 760.4,693.4 761.7,693.6 762.5,693.7 763.0,693.9 764.3,694.1 765.6,693.6 766.9,694.2 768.2,694.9 769.5,694.6 770.8,694.9 772.1,695.2 773.4,695.9 774.7,696.5 776.0,696.0 777.3,696.3 778.6,696.9 779.9,697.4 781.2,697.6 782.5,697.0 783.8,697.5 785.1,698.2 786.4,698.4 787.7,698.3 789.0,698.7 790.3,699.8 791.6,699.5 792.9,699.7 794.2,700.2 795.5,700.7 796.8,701.1 798.1,700.8 799.4,701.1 800.0,701.3 800.7,701.1 802.0,701.3 803.3,701.5 804.6,701.1 805.9,701.8 807.2,702.3 808.5,701.9 809.8,702.2 811.1,702.2 812.4,702.0 813.7,702.3 815.0,702.7 816.3,702.9 817.6,703.4 818.9,703.4 820.2,703.4 821.5,703.8 822.8,703.6 824.1,703.6 825.4,703.8 826.7,704.1 828.0,704.5 829.3,704.4 830.6,704.1 831.9,704.3 833.2,704.5 834.5,704.7 835.8,705.0 837.1,704.8 837.5,705.0 838.4,705.4 839.7,705.2 841.0,705.4 842.3,705.6 843.6,705.4 844.9,705.5 846.2,705.5 847.5,705.5 848.8,705.7 850.1,706.2 851.4,706.7 852.7,706.4 854.0,706.5 855.3,706.6 856.6,706.5 857.9,706.8 859.2,706.8 860.5,707.2 861.8,707.3 863.1,706.6 864.4,706.9 865.7,707.2 867.0,706.9 868.3,706.4 869.6,706.8 870.9,707.7 872.2,707.7 873.5,707.8 875.0,708.1 876.1,707.9 877.4,707.8 878.7,707.7 880.0,707.5 881.3,708.0 882.6,708.2 883.9,707.7 885.2,707.8 886.5,708.1 887.8,707.9 889.1,708.1 890.4,708.2 891.7,707.9 893.0,707.8 894.3,708.5 895.6,708.5 896.9,708.2 898.2,708.7 899.5,708.9 900.8,708.5 902.1,708.4 903.4,708.7 904.7,709.0 906.0,708.9 907.3,708.6 908.6,709.0 909.9,709.5 911.2,709.4 912.5,709.1 913.8,709.2 915.1,709.4 916.4,709.5 917.7,709.3 919.0,709.2 920.0,709.5 921.6,709.3 922.9,709.5 924.2,709.8 925.5,709.7 926.8,709.8 928.1,709.7 929.4,709.6 930.7,710.1 932.0,710.2 933.3,710.4 934.6,710.2 935.9,709.7 937.2,710.1 938.5,710.6 939.8,711.0 941.1,711.1 942.4,710.6 943.7,710.7 945.0,710.7 946.3,710.3 947.6,711.1 948.9,711.6 950.0,711.2 951.5,711.3 952.8,711.6 954.1,711.7 955.4,711.6 956.7,711.4 958.0,710.9 959.3,711.5 960.6,712.2 961.9,712.1 963.2,711.9 964.5,712.0 965.8,711.9 967.1,712.2 968.4,712.6 969.7,712.5 971.0,712.5 972.3,712.7 973.6,712.8 974.9,712.8 976.2,712.5 977.5,712.6 978.8,713.4 980.1,713.2 981.4,712.8 982.7,713.2 984.0,713.5 985.3,713.5 986.6,713.0 987.9,713.0 989.2,713.1 990.5,712.9 991.8,713.3 993.1,713.5 994.4,713.5 995.7,714.3 997.0,714.3 998.3,713.8 999.6,713.5 1000.0,713.2 1000.9,713.1 1002.2,713.2 1003.5,713.2 1004.8,713.1 1006.1,713.3 1007.4,713.2 1008.7,713.0 1010.0,712.9 1011.3,713.3 1012.6,713.6 1013.9,713.7 1015.2,713.9 1016.5,713.6 1017.8,713.6 1019.1,713.3 1020.4,713.7 1021.7,714.2 1023.0,713.7 1024.3,713.2 1025.6,713.3 1026.9,713.2 1028.2,712.9 1029.5,713.5 1030.8,713.7 1032.1,713.4 1033.4,713.6 1034.7,713.5 1036.0,713.3 1037.3,713.5 1038.6,713.2 1039.9,713.4 1041.2,713.4 1042.5,713.7 1043.8,713.8 1045.1,713.8 1046.4,713.7 1047.7,713.4 1049.0,713.4 1050.0,713.0 1051.6,713.2 1052.9,713.6 1054.2,713.3 1055.5,713.4 1056.8,713.4 1058.1,713.2 1059.4,713.3 1060.0,713.4 1060.7,712.9 1062.0,713.0 1063.3,713.4 1064.6,712.8 1065.9,712.2 1067.2,711.7 1068.5,711.4 1069.8,711.5 1071.1,711.4 1072.3,710.7 1073.7,710.2 1075.0,710.0 1076.3,709.3 1077.6,708.1 1078.9,707.4 1080.0,706.8 1081.5,705.4 1082.8,704.1 1084.1,702.5 1085.5,700.8 1086.7,699.0 1088.0,696.5 1089.3,693.2 1090.2,690.3 1090.6,688.8 1091.9,681.8 1092.8,675.0 1093.2,670.9 1094.5,652.0 1095.8,630.9 1096.2,624.4 1097.4,606.0 1098.4,586.0 1099.4,573.9 1101.0,573.6 1101.8,573.9 1102.3,575.6 1103.6,590.9 1104.7,606.0 1106.3,624.4 1107.5,645.7 1107.9,652.0 1108.8,663.4 1110.0,675.0 1111.4,683.8 1112.9,690.4 1114.0,693.8 1115.3,697.1 1116.6,699.9 1117.5,701.5 1117.9,702.2 1119.2,704.4 1120.5,706.3 1122.0,708.0 1123.1,709.3 1124.4,710.5 1125.7,711.2 1127.0,712.3 1127.4,712.8 1128.3,713.2 1129.6,713.4 1130.9,713.9 1132.2,714.6 1133.5,715.1 1134.8,715.1 1136.1,715.1 1137.4,715.5 1138.7,715.3 1139.7,715.3 1141.3,716.0 1142.6,716.2 1143.9,715.9 1145.2,716.3 1146.5,716.7 1147.8,716.8 1149.1,716.5 1150.4,716.3 1151.7,716.8 1153.0,716.7 1154.3,716.4 1155.6,716.8 1156.9,717.3 1158.2,716.9 1159.5,716.1 1160.8,716.1 1162.1,716.5 1162.5,716.8 1163.4,717.1 1164.7,717.2 1166.0,717.0 1167.3,717.1 1168.6,717.1 1169.9,717.1 1171.2,717.2 1172.5,717.8 1173.8,718.2 1175.1,717.5 1176.4,717.1 1177.7,717.3 1179.0,717.2 1180.3,717.1 1181.6,717.4 1182.9,717.7 1184.2,717.8 1185.5,717.5 1186.8,717.4 1188.1,717.3 1189.4,717.6 1190.7,717.9 1192.0,718.1 1193.3,718.1 1194.6,718.1 1195.0,718.3" stroke="#00c800" stroke-width="8.0"/>
<path d="M15.5,782.4 16.8,782.0 18.1,781.6 19.4,781.2 20.7,780.5 22.0,780.3 23.3,781.1 24.6,781.8 25.9,780.9 27.2,780.5 28.5,781.0 29.8,781.3 31.1,780.4 32.4,781.3 33.7,781.9 35.0,780.8 36.3,781.5 37.5,782.1 38.9,781.0 40.2,780.6 41.5,779.9 42.8,778.9 44.1,778.0 45.4,779.0 46.7,779.0 48.0,778.4 49.3,778.9 50.6,777.6 51.9,777.7 53.2,778.2 54.5,778.4 55.8,779.0 57.1,778.6 58.4,777.7 59.7,776.8 61.0,776.4 62.5,776.5 63.6,775.6 64.9,775.1 66.2,775.0 67.5,774.9 68.8,774.8 70.1,774.0 71.4,773.0 72.7,773.4 74.0,772.4 75.3,771.2 76.6,772.8 77.9,771.1 79.2,769.3 80.5,771.0 81.8,770.0 83.1,770.7 84.4,769.7 85.0,768.8 85.7,771.1 87.0,770.3 88.3,768.7 89.6,767.9 90.9,767.0 92.2,766.7 93.5,766.1 94.8,764.9 96.1,765.6 97.4,764.5 98.7,763.2 100.0,763.4 101.3,762.2 102.6,762.1 103.9,762.2 105.2,760.1 106.5,759.1 107.8,758.8 109.1,757.9 110.4,757.9 111.7,757.6 112.5,758.2 113.0,758.2 114.3,758.4 115.6,759.2 116.9,759.7 118.2,760.0 119.5,759.7 120.8,759.7 122.1,760.6 122.5,762.0 123.4,763.0 124.7,763.1 126.0,761.6 127.3,760.4 128.6,760.2 129.9,759.9 131.2,760.1 132.5,760.2 133.8,758.3 135.1,756.9 136.4,757.7 137.7,757.8 139.0,756.4 140.0,756.6 141.6,756.0 142.9,754.6 144.2,754.2 145.5,752.7 146.8,753.0 148.1,753.0 149.4,751.7 150.7,751.5 152.0,751.8 153.3,751.7 154.6,750.8 155.9,749.3 157.2,748.7 158.5,748.3 159.8,748.0 161.1,748.5 162.5,747.7 163.7,748.1 165.0,747.9 166.3,746.5 167.6,745.7 168.9,744.6 170.2,744.5 171.5,744.6 172.8,742.7 174.1,742.0 175.4,742.2 176.7,741.4 178.0,740.5 179.3,738.6 180.0,737.3 180.6,738.4 181.9,737.9 183.2,735.4 184.5,734.2 185.8,733.3 187.1,731.1 188.4,729.0 189.7,727.7 191.0,727.2 192.5,726.1 193.6,724.6 194.9,723.1 196.2,721.7 197.5,719.3 198.8,717.4 200.0,717.0 201.4,715.6 202.7,714.9 204.0,714.8 205.3,714.4 206.6,713.3 207.5,713.0 207.9,715.3 209.2,715.2 210.5,713.9 211.8,715.6 213.1,717.6 214.4,718.7 215.0,718.2 215.7,718.9 217.0,719.9 218.3,719.9 219.6,720.9 220.9,722.3 222.2,723.8 223.5,724.9 225.0,724.9 226.1,725.2 227.4,725.4 228.7,725.6 230.0,724.7 231.3,723.2 232.6,724.8 233.9,725.0 235.2,724.4 236.5,725.3 237.8,725.3 239.1,725.1 240.4,726.4 241.7,725.1 243.0,724.8 244.3,728.0 245.6,727.5 246.9,726.0 248.2,726.5 249.5,727.7 250.0,726.4 250.8,725.3 252.1,725.9 253.4,726.2 254.7,726.3 256.0,726.3 257.3,725.9 258.6,725.4 259.9,725.1 261.2,724.5 262.5,724.7 263.8,724.9 265.1,724.0 266.4,725.0 267.7,725.5 269.0,723.4 270.3,724.0 271.6,724.2 272.9,723.6 274.2,723.9 275.0,723.6 275.5,723.7 276.8,723.0 278.1,722.7 279.4,724.2 280.7,722.5 282.0,721.0 283.3,722.5 284.6,721.5 285.9,720.1 287.2,721.8 288.5,722.0 289.8,721.5 291.1,721.6 292.5,719.8 293.7,719.1 295.0,718.1 296.3,716.8 297.6,715.0 298.9,712.8 300.2,710.8 301.5,709.3 302.5,708.1 304.1,705.3 305.4,703.2 306.7,701.8 308.0,700.0 309.3,697.8 310.6,695.5 311.0,694.8 311.9,693.1 313.2,689.9 314.5,686.2 315.8,682.9 317.0,680.3 318.4,677.7 319.7,675.4 321.0,673.0 322.5,671.5 323.6,670.5 324.9,672.9 326.2,675.9 327.5,678.9 328.8,681.0 330.0,682.7 331.4,684.6 332.7,685.5 334.0,685.8 335.3,686.4 336.6,688.1 337.5,688.7 337.9,689.0 339.2,688.0 340.5,688.6 341.8,689.8 343.1,689.7 344.5,689.6 345.7,691.5 347.0,696.1 348.0,698.3 349.6,699.3 350.9,701.5 352.2,703.5 353.5,703.8 354.8,704.0 356.1,704.6 357.4,705.5 358.7,705.9 360.0,706.1 361.3,708.2 362.6,709.4 363.9,708.9 365.0,709.2 366.5,710.9 367.8,713.1 369.1,715.3 370.4,716.9 371.7,718.4 373.0,720.0 374.3,720.8 375.0,722.1 375.6,723.2 376.9,724.8 378.2,725.1 379.5,724.5 380.8,726.1 382.1,726.7 383.4,726.0 384.7,726.2 386.0,727.6 387.3,728.9 388.6,729.4 389.9,730.4 391.2,731.6 392.5,731.8 393.8,732.0 395.0,732.4 396.4,733.5 397.7,735.0 399.0,735.7 400.3,736.4 401.6,737.1 402.9,737.2 404.2,737.8 405.5,739.7 406.8,741.2 407.5,742.1 408.1,742.2 409.4,742.6 410.7,744.0 412.0,744.8 413.3,744.6 414.6,744.8 415.9,745.9 417.2,746.2 418.5,747.1 419.8,748.9 421.1,749.0 422.4,750.1 423.7,750.8 425.0,749.9 426.3,750.3 427.6,750.2 428.9,750.8 430.0,751.3 431.5,752.0 432.8,752.3 434.1,751.5 435.4,750.8 436.7,749.3 438.0,749.2 439.3,749.4 440.6,749.9 441.9,750.3 443.2,750.6 444.5,751.1 445.0,750.5 445.8,750.2 447.1,750.0 448.4,750.5 449.7,751.3 451.0,750.9 452.3,751.2 453.6,753.7 454.9,753.9 456.2,753.0 457.5,753.3 458.8,753.2 460.0,754.9 461.4,756.4 462.7,756.6 464.0,758.2 465.3,760.1 466.6,759.5 467.9,759.6 469.2,761.2 470.5,761.6 471.8,762.3 473.1,762.8 474.4,764.1 475.0,764.8 475.7,764.4 477.0,765.3 478.3,766.2 479.6,766.2 480.9,766.4 482.2,767.7 483.5,768.3 484.8,767.6 486.1,767.2 487.4,767.5 488.7,767.9 490.0,768.6 491.3,769.8 492.6,768.9 493.9,769.2 495.2,771.3 496.5,771.8 497.8,771.3 499.1,772.4 500.0,772.8 500.4,771.5 501.7,771.8 503.0,773.0 504.3,774.8 505.6,776.0 506.9,776.1 508.2,775.3 509.5,775.4 510.8,776.1 512.1,776.8 513.4,776.8 514.7,777.4 516.0,779.2 517.3,779.4 518.6,779.5 520.0,779.2 521.2,778.1 522.5,778.3 523.8,780.1 525.1,781.3 526.4,780.3 527.7,780.4 529.0,780.5 530.3,780.8 531.6,781.4 532.9,780.1 534.2,780.4 535.5,780.3 536.8,779.3 537.5,779.0 538.1,779.8 539.4,781.1 540.7,781.4 542.0,782.0 543.3,783.6 544.6,784.6 546.0,785.2 547.2,787.9 548.5,791.6 549.0,792.1 549.8,789.9 551.1,787.0 552.5,785.5 553.7,786.0 555.0,786.9 556.3,786.6 557.6,786.8 558.9,788.0 560.2,789.1 561.5,790.1 562.8,790.7 564.1,790.9 565.0,789.7 565.4,789.5 566.7,790.4 568.0,790.7 569.3,792.2 570.6,793.9 571.9,793.6 573.2,792.4 574.5,792.4 575.8,792.9 577.1,794.1 578.4,794.9 579.7,794.5 581.0,794.3 582.3,792.8 583.6,792.8 584.9,793.5 586.2,794.4 587.5,795.3 588.8,794.7 590.1,794.5 591.4,796.2 592.7,796.0 594.0,794.5 595.3,795.1 596.6,795.3 597.9,795.2 599.2,796.1 600.0,797.5 600.5,796.0 601.8,794.8 603.1,796.0 604.4,795.9 605.7,795.7 607.0,795.5 608.3,796.2 609.6,796.1 610.9,795.3 612.2,795.5 613.5,795.6 614.8,795.3 616.1,795.8 617.4,795.8 618.7,795.2 620.0,795.0 621.3,794.2 622.6,793.5 623.9,793.4 625.0,793.9 626.5,794.0 627.8,793.0 629.1,793.4 630.4,794.2 631.7,792.7 633.0,793.2 634.3,794.0 635.6,792.6 636.9,792.9 638.2,792.7 639.5,791.3 640.8,792.3 642.1,791.6 643.4,789.8 644.7,790.6 646.0,789.6 647.3,788.6 648.6,789.1 650.0,790.2 651.2,789.0 652.5,787.1 653.8,787.6 655.1,787.2 656.4,785.6 657.7,785.2 659.0,785.4 660.3,784.9 661.6,784.9 662.9,784.6 664.2,783.6 665.5,782.6 666.8,781.1 668.1,780.2 669.4,780.3 670.0,779.9 670.7,779.5 672.0,778.6 673.3,778.6 674.6,779.4 675.9,777.6 677.2,775.9 678.5,775.2 679.8,774.8 681.1,774.4 682.4,773.0 683.7,771.9 685.0,771.2 686.3,770.1 687.5,769.8 688.9,769.3 690.2,768.5 691.5,768.2 692.8,767.9 694.1,767.2 695.4,766.7 696.7,765.8 698.0,765.3 698.5,765.8 699.3,765.5 700.6,765.9 701.9,766.7 703.2,765.9 704.5,766.1 705.8,767.1 707.1,768.2 708.4,768.6 709.7,768.1 711.0,768.8 712.5,771.0 713.6,771.6 714.9,771.2 716.2,772.2 717.5,771.5 718.8,772.1 720.1,774.1 721.4,774.6 722.7,775.3 724.0,775.7 725.3,775.6 726.6,776.1 727.9,776.8 729.2,778.7 730.5,779.2 731.8,778.8 733.1,778.9 734.4,778.9 735.0,780.4 735.7,780.5 737.0,779.9 738.3,781.2 739.6,782.2 740.9,784.1 742.2,783.9 743.5,783.9 744.8,786.3 746.1,786.4 747.4,786.6 748.7,788.3 750.0,790.3 751.3,790.5 752.6,789.7 753.9,791.5 755.0,793.8 756.5,794.0 757.8,792.9 759.1,794.7 760.4,796.5 761.7,797.2 763.0,798.1 764.3,798.1 765.6,798.7 766.9,800.5 768.2,802.2 769.5,801.2 770.8,800.8 772.1,803.6 773.4,804.7 775.0,804.1 776.0,804.9 777.3,806.4 778.6,807.2 779.9,807.8 781.2,808.6 782.5,809.4 783.8,810.6 785.1,811.2 786.4,811.8 787.7,812.9 789.0,814.6 790.3,815.6 791.6,815.7 792.9,816.5 794.2,817.6 795.0,818.3 795.5,818.6 796.8,819.7 798.1,820.9 799.4,820.7 800.7,820.4 802.0,821.7 803.3,822.9 804.6,823.0 805.9,822.6 807.2,822.3 808.5,823.9 809.8,826.0 811.1,826.9 812.4,826.2 813.7,826.9 815.0,827.8 816.3,827.9 817.6,828.9 818.9,828.6 820.2,828.4 821.5,828.0 822.8,828.2 824.1,828.8 825.4,830.0 826.7,831.5 828.0,832.1 829.3,832.6 830.6,832.0 831.9,832.3 833.2,832.7 834.5,833.1 835.8,833.8 837.1,833.0 837.5,832.9 838.4,833.7 839.7,833.7 841.0,834.4 842.3,835.9 843.6,835.2 844.9,834.1 846.2,833.0 847.5,833.3 848.8,834.6 850.1,833.4 851.4,834.0 852.7,835.9 854.0,835.4 855.3,834.9 856.6,834.9 857.9,835.7 859.2,835.5 860.5,834.9 861.8,837.3 863.1,837.6 864.4,836.8 865.7,836.8 867.0,835.8 868.3,836.0 869.6,837.2 870.9,836.7 872.2,836.8 873.5,838.4 875.0,839.0 876.1,837.3 877.4,836.1 878.7,836.3 880.0,837.8 881.3,839.4 882.6,839.3 883.9,838.5 885.2,837.5 886.5,838.3 887.8,839.3 889.1,838.9 890.4,839.1 891.7,840.2 893.0,840.4 894.3,839.5 895.6,838.1 896.9,838.7 898.2,840.3 899.5,840.4 900.0,840.1 900.8,839.8 902.1,840.7 903.4,841.2 904.7,840.9 906.0,840.4 907.3,840.0 908.6,840.8 909.9,840.7 911.2,839.8 912.5,840.3 913.8,842.0 915.1,842.4 916.4,842.7 917.7,842.6 919.0,841.5 920.3,840.8 921.6,840.7 922.9,842.6 924.2,843.3 925.5,842.9 926.8,843.2 928.1,842.8 929.4,842.3 930.7,842.4 932.0,843.1 933.3,843.3 934.6,843.3 935.9,843.1 937.2,842.4 938.5,842.2 939.8,842.1 941.1,843.0 942.4,842.3 943.7,841.5 945.0,844.5 946.3,844.4 947.6,842.2 948.9,842.4 950.2,844.0 951.5,844.0 952.8,843.5 954.1,843.7 955.4,843.1 956.7,845.1 958.0,845.4 959.3,843.0 960.0,842.6 960.6,843.2 961.9,843.8 963.2,844.1 964.5,843.9 965.8,842.5 967.1,842.7 968.4,843.4 969.7,842.9 971.0,842.1 972.3,842.0 973.6,842.4 974.9,842.8 976.2,842.3 977.5,842.4 978.8,843.4 980.1,842.6 981.4,842.1 982.7,842.3 984.0,843.3 985.3,842.2 986.6,841.4 987.9,842.0 989.2,841.9 990.5,843.5 991.8,843.4 993.1,842.9 994.4,842.8 995.7,843.9 997.0,845.1 998.3,844.6 999.6,843.1 1000.9,841.6 1002.2,843.2 1003.5,843.8 1004.8,842.9 1006.1,843.3 1007.4,842.6 1008.7,842.9 1010.0,843.7 1011.3,843.5 1012.6,843.1 1013.9,843.1 1015.2,843.1 1016.5,843.3 1017.8,844.5 1019.1,844.5 1020.4,844.1 1021.7,843.9 1023.0,841.8 1024.3,841.9 1025.6,843.5 1026.9,843.0 1028.2,843.0 1029.5,842.1 1030.8,841.9 1032.1,843.2 1033.4,844.5 1034.7,843.7 1036.0,842.1 1037.3,843.5 1038.6,843.5 1039.9,843.9 1041.2,844.5 1042.5,842.6 1043.8,843.2 1045.1,844.8 1046.4,843.3 1047.7,843.2 1049.0,843.9 1050.3,843.9 1051.6,843.8 1052.9,841.8 1054.2,842.4 1055.5,844.0 1056.8,845.0 1058.1,845.6 1059.4,844.6 1060.7,843.4 1062.0,842.6 1063.3,842.5 1064.6,842.3 1065.9,842.3 1067.2,841.2 1068.5,841.5 1069.8,843.1 1071.1,844.7 1072.4,845.2 1073.7,843.2 1075.0,843.1 1076.3,842.6 1077.6,841.8 1078.9,841.4 1080.2,842.7 1081.5,844.3 1082.8,842.6 1084.1,842.2 1085.4,843.6 1086.7,843.9 1088.0,843.6 1089.3,842.7 1090.6,842.0 1091.9,842.7 1093.2,843.7 1094.5,843.1 1095.8,841.7 1097.1,843.0 1098.4,843.1 1100.0,843.1 1101.0,843.9 1102.3,843.7 1103.6,844.7 1104.9,844.6 1106.2,844.0 1107.5,843.0 1108.8,842.0 1110.1,843.0 1111.4,844.5 1112.7,845.0 1114.0,845.6 1115.3,844.9 1116.6,843.5 1117.9,844.0 1119.2,843.9 1120.5,843.3 1121.8,842.6 1123.1,843.3 1124.4,843.3 1125.7,843.1 1127.0,842.9 1128.3,843.3 1129.6,843.6 1130.9,843.4 1132.2,843.1 1133.5,842.3 1134.8,844.1 1136.1,843.9 1137.4,843.2 1138.7,843.5 1140.0,842.0 1141.3,842.5 1142.6,844.3 1143.9,843.4 1145.2,843.6 1146.5,843.8 1147.8,842.8 1149.1,843.3 1150.0,843.6 1150.4,845.1 1151.7,844.5 1153.0,843.5 1154.3,845.2 1155.6,843.4 1156.9,841.7 1158.2,843.4 1159.5,844.2 1160.8,844.1 1162.1,845.2 1163.4,844.7 1164.7,843.3 1166.0,841.8 1167.3,842.6 1168.6,843.8 1169.9,843.9 1171.2,844.7 1172.5,843.6 1173.8,844.6 1175.1,846.2 1176.4,845.6 1177.7,844.2 1179.0,843.4 1180.3,843.8 1181.6,843.8 1182.9,843.5 1184.2,844.0 1185.5,844.9 1186.8,844.9 1188.1,844.4 1189.4,845.1 1190.7,845.5 1192.0,842.9 1193.3,842.4 1194.6,844.1 1195.0,845.2" stroke="#fa0000" stroke-width="8.0"/>
<path d="M15.5,849.1 16.8,847.7 18.1,846.7 19.4,846.2 20.7,845.5 22.0,844.0 23.3,843.7 24.6,843.5 25.9,843.0 27.2,843.1 28.5,843.2 30.0,843.4 31.1,842.7 32.4,842.3 33.7,842.2 35.0,843.1 36.3,844.0 37.6,844.2 38.9,844.2 40.2,843.3 41.5,844.3 42.8,845.5 44.1,845.3 45.0,845.6 45.4,845.9 46.7,846.5 48.0,846.4 49.3,847.2 50.6,848.3 51.9,848.6 53.2,850.1 54.5,851.3 55.8,851.3 57.1,850.9 58.4,851.5 60.0,852.8 61.0,852.8 62.3,852.3 63.6,852.2 64.9,852.3 66.2,852.8 67.5,853.7 68.8,854.1 70.1,853.6 71.4,853.3 72.5,853.8 74.0,853.2 75.3,852.2 76.6,852.2 77.9,851.7 79.5,850.9 80.5,851.1 81.8,852.4 83.1,854.5 84.4,856.8 85.0,858.2 85.7,859.5 87.0,861.9 88.3,864.3 89.6,866.7 90.9,868.7 92.5,870.3 93.5,871.3 94.8,871.8 96.1,872.4 97.4,872.8 98.7,872.3 100.0,872.7 101.3,873.1 102.6,873.4 103.9,874.9 105.0,875.8 106.5,876.3 107.8,877.5 109.1,878.7 110.4,879.1 111.7,880.1 113.0,881.3 114.3,881.9 115.6,882.9 116.9,883.4 118.2,883.8 119.5,885.0 120.0,885.7 120.8,886.0 122.1,886.5 123.4,887.6 124.7,888.8 126.0,889.4 127.3,889.9 128.6,890.0 129.9,889.7 131.0,890.0 132.5,889.9 133.8,889.5 135.1,890.1 136.4,890.1 137.0,889.1 137.7,889.4 139.0,890.8 140.3,891.3 141.6,892.2 142.9,893.3 144.2,894.3 145.5,895.7 146.8,897.2 148.1,899.2 149.4,900.2 150.0,900.6 150.7,901.2 152.0,901.7 153.3,903.2 154.6,904.5 155.9,905.3 157.2,905.6 158.5,906.6 159.8,907.6 161.1,909.1 162.5,910.2 163.7,910.2 165.0,910.8 166.3,911.4 167.6,912.2 168.9,913.4 170.2,914.5 171.5,915.0 172.8,915.4 174.1,915.3 175.4,916.3 176.0,916.1 176.7,914.9 178.0,915.3 179.3,915.3 180.6,914.7 181.9,914.9 183.2,914.3 184.5,913.6 185.8,913.0 187.1,912.5 187.5,912.9 188.4,911.6 189.7,910.0 191.0,908.4 192.3,906.6 193.6,904.5 194.9,901.8 196.0,899.5 197.5,894.7 198.8,889.1 200.1,883.4 201.0,880.0 201.4,878.6 202.7,873.3 204.0,868.5 205.5,866.1 206.6,867.3 207.9,871.5 209.2,876.9 210.0,880.1 210.5,881.9 211.8,888.0 213.1,894.4 214.4,900.0 215.0,902.1 215.7,904.0 217.0,907.3 218.3,910.2 219.6,912.7 220.9,915.0 222.5,917.3 223.5,918.6 224.8,919.5 226.1,919.9 227.4,921.2 228.7,923.0 230.0,923.3 231.3,923.1 232.5,923.4 233.9,924.9 235.2,925.3 236.5,925.1 237.8,925.9 239.1,926.9 240.4,927.0 241.7,926.7 243.0,926.7 244.3,927.4 245.0,928.0 245.6,927.4 246.9,926.4 248.2,926.1 249.5,926.7 250.8,926.7 252.1,926.6 253.4,926.9 254.7,926.5 256.0,926.4 257.3,926.3 258.6,925.5 259.9,925.0 261.2,926.0 262.5,925.4 263.8,924.1 265.1,924.6 266.4,924.4 267.7,923.3 269.0,922.4 270.3,922.4 271.6,922.7 272.9,922.4 274.2,921.4 275.5,920.7 276.8,919.7 278.1,918.7 279.4,918.2 280.0,917.8 280.7,917.9 282.0,917.4 283.3,916.1 284.6,915.2 285.9,914.4 287.2,912.7 288.5,911.7 290.0,910.1 291.1,909.0 292.4,907.8 293.7,906.0 295.0,903.9 296.3,901.5 297.5,899.0 298.9,895.2 300.2,890.7 301.5,885.4 302.8,879.6 304.0,874.0 305.4,867.0 306.7,859.8 308.0,851.6 309.6,840.0 310.6,830.1 311.9,813.9 313.2,798.1 314.1,790.0 314.5,787.2 315.8,777.9 317.1,769.5 318.4,762.8 319.7,758.8 320.4,758.3 321.0,758.9 322.3,762.1 323.6,767.3 324.2,770.0 324.9,774.5 326.2,786.7 327.5,798.0 328.8,806.0 330.1,812.7 331.3,817.5 332.7,821.5 334.0,824.2 335.3,826.6 336.6,829.3 337.9,832.0 338.5,833.4 339.2,835.6 340.5,839.9 341.8,844.8 343.1,849.9 343.8,852.6 344.4,855.0 345.7,860.9 347.0,866.7 348.3,871.1 348.8,872.1 349.6,873.0 350.9,874.5 352.2,875.9 353.5,877.0 354.0,877.3 354.8,877.2 356.1,878.1 357.4,880.2 358.7,880.9 360.0,880.9 361.0,881.3 362.6,883.7 363.9,886.5 365.2,889.7 366.5,893.1 367.8,896.2 369.1,899.0 370.0,899.9 370.4,900.1 371.7,901.8 373.0,902.8 374.3,904.0 375.6,905.5 376.9,907.0 378.2,907.5 379.5,908.4 380.8,910.2 382.1,910.7 382.5,910.4 383.4,910.5 384.7,910.4 386.0,911.1 387.3,912.1 388.6,912.7 389.9,913.9 391.2,914.3 392.5,913.9 393.8,914.6 395.1,914.2 396.4,913.5 397.7,914.0 399.0,914.4 400.3,914.9 401.6,915.1 402.5,915.5 402.9,916.2 404.2,915.9 405.5,915.1 406.8,915.1 408.1,915.5 409.4,914.9 410.7,914.7 412.0,915.4 413.3,915.4 414.6,915.7 415.9,916.1 417.2,915.1 418.5,914.7 419.8,914.7 421.1,914.9 422.4,914.9 423.7,915.0 425.0,915.5 426.3,915.5 427.6,915.3 428.9,914.4 430.0,915.1 431.5,915.5 432.8,915.2 434.1,915.1 435.4,914.5 436.7,914.6 438.0,914.1 439.3,913.6 440.6,912.6 441.9,912.1 443.2,912.4 444.5,911.9 445.0,912.0 445.8,912.2 447.1,913.0 448.4,912.6 449.7,912.5 451.0,913.5 452.3,914.6 453.6,915.4 454.9,915.9 456.2,916.7 457.5,917.5 458.8,918.6 460.0,918.7 461.4,918.9 462.7,919.1 464.0,919.8 465.3,921.1 466.6,921.3 467.9,921.9 469.2,921.9 470.5,921.2 471.8,921.8 473.1,922.6 474.4,923.3 475.0,923.5 475.7,923.5 477.0,923.9 478.3,923.8 479.6,923.1 480.9,922.8 482.2,924.2 483.5,923.8 484.8,923.0 486.1,924.5 487.4,924.7 488.7,923.9 490.0,923.7 491.3,924.3 492.6,924.7 493.9,923.8 495.2,923.4 496.5,923.6 497.8,923.4 499.1,923.4 500.4,922.5 501.7,921.1 503.0,920.9 504.3,921.5 505.6,921.1 506.9,920.1 508.2,920.1 509.5,919.2 510.0,918.5 510.8,918.3 512.1,917.3 513.4,916.8 514.7,916.4 516.0,915.2 517.3,913.7 518.6,912.6 519.9,911.8 521.2,911.1 522.5,910.0 523.8,908.7 525.1,907.1 526.4,906.1 527.7,904.7 529.0,903.2 530.3,902.3 531.0,901.6 531.6,900.5 532.9,900.1 534.2,899.8 535.5,899.2 536.8,897.9 538.1,896.6 538.5,896.5 539.4,896.9 540.7,898.4 542.0,899.3 543.3,899.4 544.6,899.9 545.9,900.9 547.5,901.6 548.5,902.2 549.8,903.5 551.1,904.5 552.4,906.1 553.7,908.4 555.0,910.0 556.3,911.2 557.5,912.3 558.9,913.4 560.2,914.9 561.5,916.0 562.8,916.3 564.1,916.4 565.4,917.4 566.7,918.5 568.0,918.8 569.3,920.3 570.0,921.5 570.6,920.9 571.9,921.5 573.2,922.8 574.5,922.8 575.8,923.4 577.1,923.6 578.4,923.3 579.7,923.8 581.0,924.2 582.3,925.4 583.6,925.6 585.0,925.1 586.2,925.4 587.5,926.1 588.8,926.5 590.1,927.0 591.4,927.0 592.7,926.4 594.0,926.7 595.3,927.3 596.6,927.3 597.9,927.5 599.2,928.7 600.5,928.5 601.8,928.0 603.1,928.8 604.4,928.6 605.7,927.8 607.0,927.7 608.3,928.2 609.6,928.8 610.0,928.6 610.9,928.4 612.2,928.9 613.5,929.0 614.8,927.8 616.1,927.3 617.4,927.7 618.7,927.8 620.0,927.7 621.3,927.2 622.6,927.2 623.9,926.9 625.2,927.3 626.5,928.0 627.8,928.4 629.1,928.5 630.4,928.5 631.7,928.8 633.0,928.9 634.3,929.8 635.6,930.3 636.9,930.4 638.2,930.4 639.5,930.4 640.8,930.3 642.1,930.1 642.5,930.6 643.4,931.0 644.7,931.3 646.0,931.0 647.3,931.2 648.6,931.4 649.9,931.2 651.2,931.5 652.5,931.2 653.8,930.8 655.1,931.0 656.4,930.9 657.7,931.0 659.0,931.5 660.3,931.7 661.6,931.1 662.9,930.3 664.2,930.5 665.5,930.9 666.8,931.3 668.1,931.2 669.4,930.7 670.7,931.2 672.0,931.1 673.3,930.7 674.6,931.6 675.0,932.2 675.9,931.8 677.2,931.2 678.5,930.5 679.8,930.4 681.1,930.6 682.4,930.2 683.7,929.8 685.0,929.4 686.3,929.2 687.6,929.0 688.9,929.3 690.2,929.1 691.5,927.6 692.8,926.9 694.1,926.7 695.0,926.6 695.4,927.3 696.7,927.6 698.0,926.9 699.3,926.6 700.6,926.3 701.9,925.5 703.2,925.0 704.5,925.0 705.8,925.9 707.1,925.6 708.4,925.5 710.0,926.4 711.0,925.9 712.3,925.5 713.6,925.5 714.9,925.7 716.2,926.4 717.5,926.7 718.8,927.2 720.1,927.9 721.4,928.1 722.7,928.1 724.0,928.3 725.0,928.6 726.6,928.6 727.9,929.0 729.2,929.9 730.5,930.0 731.8,931.1 733.1,931.6 734.4,931.1 735.7,932.0 737.0,932.2 738.3,932.4 739.6,933.1 740.9,933.5 742.2,934.5 743.5,935.5 744.8,936.4 746.1,937.0 747.4,937.5 748.7,937.8 750.0,937.5 751.3,938.0 752.6,938.3 753.9,938.0 755.2,939.0 756.5,939.8 757.8,939.6 759.1,939.8 760.4,940.3 761.7,939.8 763.0,939.6 764.3,939.9 765.6,940.2 766.9,940.6 768.2,941.3 769.5,942.0 770.8,941.3 772.1,941.3 773.4,941.3 775.0,941.5 776.0,942.3 777.3,942.5 778.6,941.7 779.9,941.6 781.2,942.7 782.5,943.1 783.8,943.4 785.1,943.0 786.4,942.8 787.7,943.2 789.0,943.2 790.3,943.7 791.6,944.0 792.9,943.7 794.2,943.6 795.5,943.5 796.8,943.0 798.1,943.7 799.4,944.4 800.7,943.6 802.0,943.4 803.3,944.1 804.6,945.1 805.9,945.6 807.2,945.4 808.5,944.4 809.8,944.1 811.1,945.0 812.5,945.3 813.7,945.3 815.0,945.2 816.3,945.7 817.6,946.5 818.9,945.8 820.2,945.0 821.5,945.9 822.8,946.1 824.1,945.8 825.4,946.8 826.7,946.1 828.0,945.5 829.3,945.8 830.6,945.9 831.9,946.2 833.2,946.8 834.5,946.9 835.8,946.2 837.1,946.4 837.5,946.3 838.4,945.7 839.7,946.6 841.0,946.4 842.3,945.3 843.6,945.5 844.9,945.1 846.2,944.2 847.5,944.9 848.8,945.2 850.1,944.4 851.4,944.4 852.7,944.1 854.0,943.7 855.3,944.0 856.6,945.2 857.9,945.3 859.2,944.6 860.5,943.7 861.8,943.4 862.5,943.5 863.1,943.8 864.4,944.2 865.7,944.0 867.0,944.1 868.3,944.0 869.6,943.6 870.9,944.2 872.2,944.4 873.5,943.9 874.8,944.5 876.1,944.9 877.4,945.3 878.7,946.2 880.0,946.4 881.3,946.3 882.6,946.4 883.9,946.8 885.2,946.3 886.5,946.3 887.5,946.7 889.1,946.3 890.4,946.8 891.7,947.3 893.0,947.6 894.3,948.3 895.6,947.4 896.9,947.1 898.2,948.8 899.5,949.3 900.8,949.3 902.1,949.1 903.4,948.2 904.7,947.8 906.0,948.8 907.3,949.7 908.6,949.3 909.9,948.9 911.2,949.4 912.5,948.9 913.8,948.8 915.1,950.2 916.4,951.2 917.7,950.6 919.0,950.6 920.0,950.5 921.6,949.5 922.9,948.9 924.2,949.6 925.5,950.4 926.8,950.9 928.1,951.3 929.4,950.5 930.7,949.7 932.0,950.2 933.3,950.8 934.6,950.2 935.9,949.5 937.2,950.0 938.5,951.2 939.8,950.6 941.1,950.3 942.4,950.7 943.7,951.1 945.0,951.0 946.3,951.3 947.6,951.2 948.9,950.4 950.2,950.3 951.5,949.6 952.8,949.5 954.1,950.9 955.4,951.3 956.7,950.7 958.0,950.7 959.3,950.3 960.0,950.1 960.6,951.1 961.9,951.5 963.2,951.0 964.5,951.2 965.8,952.2 967.1,951.8 968.4,951.4 969.7,951.0 971.0,950.1 972.3,951.0 973.6,951.8 974.9,951.7 976.2,951.5 977.5,951.4 978.8,952.0 980.1,952.9 981.4,952.5 982.7,951.3 984.0,952.0 985.3,952.9 986.6,952.7 987.9,952.6 989.2,953.3 990.5,953.3 991.8,952.7 993.1,952.0 994.4,951.7 995.7,952.2 997.0,952.4 998.3,952.9 999.6,952.6 1000.9,953.2 1002.2,953.1 1003.5,952.3 1004.8,952.8 1006.1,952.5 1007.4,952.7 1008.7,953.4 1010.0,953.1 1011.3,953.6 1012.6,953.7 1013.9,953.1 1015.2,952.7 1016.5,952.0 1017.8,952.1 1019.1,952.6 1020.4,952.7 1021.7,953.1 1023.0,952.3 1024.3,951.6 1025.6,951.8 1026.9,952.8 1028.2,953.3 1029.5,952.5 1030.8,952.3 1032.1,952.9 1033.4,953.1 1034.7,952.9 1036.0,952.3 1037.3,952.6 1038.6,953.6 1039.9,953.3 1041.2,953.6 1042.5,953.4 1043.8,952.8 1045.1,953.2 1046.4,953.4 1047.7,953.0 1049.0,952.9 1050.0,952.8 1051.6,953.0 1052.9,953.5 1054.2,953.2 1055.5,953.5 1056.8,952.8 1058.1,951.9 1059.4,953.1 1060.0,953.0 1060.7,951.6 1062.0,952.1 1063.3,952.5 1064.6,951.1 1065.9,950.7 1067.2,950.1 1068.5,948.8 1069.8,948.5 1070.7,948.3 1071.1,947.8 1072.4,947.0 1073.7,946.1 1075.0,945.1 1076.0,944.5 1077.6,943.0 1078.9,941.4 1080.2,939.3 1080.7,938.5 1081.5,937.6 1082.8,936.1 1084.1,934.2 1085.0,932.5 1085.4,931.9 1086.7,930.1 1088.0,928.3 1089.5,925.3 1090.6,921.6 1091.9,914.7 1092.6,910.0 1093.2,904.2 1094.5,887.0 1095.8,869.1 1096.4,859.4 1097.3,841.0 1098.4,819.2 1099.4,808.4 1101.0,807.3 1101.8,807.6 1102.3,809.1 1103.6,823.3 1104.8,841.0 1105.9,859.4 1107.8,887.0 1108.8,898.9 1110.0,910.0 1111.4,918.2 1112.7,923.6 1113.2,925.1 1114.0,927.3 1115.3,930.2 1116.6,932.5 1117.0,933.1 1117.9,934.4 1119.2,936.2 1120.5,937.8 1121.3,938.7 1121.8,939.9 1123.1,941.8 1124.4,943.2 1125.7,944.6 1127.0,946.4 1128.3,948.3 1129.0,948.1 1129.6,947.8 1130.9,949.2 1132.2,950.5 1133.5,950.8 1134.8,951.3 1136.1,952.0 1137.4,953.1 1138.7,953.8 1139.7,953.1 1141.3,953.1 1142.6,953.7 1143.9,954.3 1145.2,953.7 1146.5,953.7 1147.8,953.8 1149.1,953.6 1150.4,953.7 1151.7,953.6 1153.0,954.0 1154.3,954.3 1155.6,954.8 1156.9,955.6 1158.2,955.4 1159.5,954.8 1160.8,955.2 1162.1,955.0 1163.4,954.0 1165.0,955.1 1166.0,956.1 1167.3,956.3 1168.6,956.0 1169.9,955.2 1171.2,955.1 1172.5,955.9 1173.8,955.8 1175.1,955.4 1176.4,955.2 1177.7,955.1 1179.0,956.0 1180.3,956.6 1181.6,955.9 1182.9,955.3 1184.2,955.6 1185.5,956.3 1186.8,956.1 1188.1,955.8 1189.4,955.4 1190.7,955.0 1192.0,956.0 1193.3,956.9 1194.6,956.3 1195.0,955.6" stroke="#966408" stroke-width="8.3"/>
</g>
<path d="M443.0,319.0 443.6,312.0 444.0,309.7 445.0,306.0 446.0,303.7 447.0,302.0 448.0,300.6 449.0,299.5 450.0,298.5 451.0,297.5 452.0,296.6 453.0,295.7 454.0,294.9 455.0,294.1 456.0,293.4 457.0,292.8 457.5,292.5 458.0,292.2 459.0,291.7 460.0,291.2 461.0,290.7 462.0,290.3 463.0,289.9 464.0,289.5 465.0,289.1 466.0,288.7 467.0,288.4 468.0,288.1 469.0,287.8 470.0,287.5 471.0,287.2 472.0,287.0 473.0,286.8 474.0,286.5 475.0,286.3 476.0,286.1 477.0,285.9 478.0,285.7 479.0,285.5 480.0,285.3 481.0,285.2 482.0,285.0 483.0,284.8 484.0,284.7 485.0,284.5 486.0,284.4 487.0,284.2 488.0,284.1 489.0,283.9 490.0,283.8 491.0,283.7 492.0,283.5 493.0,283.4 494.0,283.3 495.0,283.2 496.0,283.1 497.0,283.0 498.0,282.9 499.0,282.7 500.0,282.6 501.0,282.5 502.0,282.4 503.0,282.3 504.0,282.2 505.0,282.2 506.0,282.1 507.0,282.0 508.0,281.9 509.0,281.8 510.0,281.7 511.0,281.6 512.0,281.5 513.0,281.4 514.0,281.3 515.0,281.3 516.0,281.2 517.0,281.1 518.0,281.0 519.0,280.9 520.0,280.8 521.0,280.7 522.0,280.6 523.0,280.5 524.0,280.4 525.0,280.3 526.0,280.2 527.0,280.2 528.0,280.1 529.0,280.0 530.0,279.9 531.0,279.8 532.0,279.7 533.0,279.6 534.0,279.5 535.0,279.4 536.0,279.3 537.0,279.3 538.0,279.2 539.0,279.1 540.0,279.0 541.0,278.9 542.0,278.8 543.0,278.7 544.0,278.6 545.0,278.6 546.0,278.5 547.0,278.4 548.0,278.3 549.0,278.2 550.0,278.1 551.0,278.0 552.0,278.0 553.0,277.9 554.0,277.8 555.0,277.7 556.0,277.6 557.0,277.5 557.5,277.5 558.0,277.5 559.0,277.4 560.0,277.3 561.0,277.2 562.0,277.1 563.0,277.0 564.0,277.0 565.0,276.9 566.0,276.8 567.0,276.7 568.0,276.6 569.0,276.5 570.0,276.5 571.0,276.4 572.0,276.3 573.0,276.2 574.0,276.1 575.0,276.0 576.0,276.0 577.0,275.9 578.0,275.8 579.0,275.7 580.0,275.6 581.0,275.6 582.0,275.5 583.0,275.4 584.0,275.3 585.0,275.3 586.0,275.2 587.0,275.1 588.0,275.0 589.0,274.9 590.0,274.9 591.0,274.8 592.0,274.7 593.0,274.6 594.0,274.6 595.0,274.5 596.0,274.4 597.0,274.4 598.0,274.3 599.0,274.2 600.0,274.1 601.0,274.1 602.0,274.0 603.0,273.9 604.0,273.8 605.0,273.8 606.0,273.7 607.0,273.6 608.0,273.5 609.0,273.5 610.0,273.4 611.0,273.3 612.0,273.3 613.0,273.2 614.0,273.1 615.0,273.0 616.0,273.0 617.0,272.9 618.0,272.8 619.0,272.8 620.0,272.7 621.0,272.6 622.0,272.6 623.0,272.5 624.0,272.5 625.0,272.4 626.0,272.3 627.0,272.3 628.0,272.2 629.0,272.2 630.0,272.1 631.0,272.1 632.0,272.0 632.5,272.0 633.0,272.0 634.0,271.9 635.0,271.9 636.0,271.8 637.0,271.8 638.0,271.7 639.0,271.7 640.0,271.6 641.0,271.6 642.0,271.5 643.0,271.5 644.0,271.4 645.0,271.4 646.0,271.4 647.0,271.3 648.0,271.3 649.0,271.2 650.0,271.2 651.0,271.1 652.0,271.1 653.0,271.1 654.0,271.0 655.0,271.0 656.0,270.9 657.0,270.9 658.0,270.9 659.0,270.8 660.0,270.8 661.0,270.8 662.0,270.8 663.0,270.7 664.0,270.7 665.0,270.7 666.0,270.7 667.0,270.6 668.0,270.6 669.0,270.6 670.0,270.6 671.0,270.6 672.0,270.6 673.0,270.6 674.0,270.6 675.0,270.5 676.0,270.5 677.0,270.5 678.0,270.5 679.0,270.5 680.0,270.5 681.0,270.5 682.0,270.5 683.0,270.5 684.0,270.5 685.0,270.5 686.0,270.5 687.0,270.4 688.0,270.4 689.0,270.4 690.0,270.4 691.0,270.4 692.0,270.4 693.0,270.4 694.0,270.4 695.0,270.4 696.0,270.4 697.0,270.4 698.0,270.4 699.0,270.4 700.0,270.4 701.0,270.4 702.0,270.4 703.0,270.4 704.0,270.4 705.0,270.4 706.0,270.4 707.0,270.4 708.0,270.4 709.0,270.5 710.0,270.5 711.0,270.5 712.0,270.5 713.0,270.5 714.0,270.5 715.0,270.6 716.0,270.6 717.0,270.6 718.0,270.6 719.0,270.6 720.0,270.6 721.0,270.7 722.0,270.7 723.0,270.7 724.0,270.7 725.0,270.8 726.0,270.8 727.0,270.8 728.0,270.8 729.0,270.8 730.0,270.9 731.0,270.9 732.0,270.9 733.0,270.9 734.0,270.9 735.0,270.9 736.0,271.0 737.0,271.0 738.0,271.0 739.0,271.0 740.0,271.0 741.0,271.0 742.0,271.1 743.0,271.1 744.0,271.1 745.0,271.1 746.0,271.1 747.0,271.1 748.0,271.1 749.0,271.1 750.0,271.1 751.0,271.1 752.0,271.1 753.0,271.1 754.0,271.1 755.0,271.1 756.0,271.1 757.0,271.1 758.0,271.1 759.0,271.1 760.0,271.1 761.0,271.1 762.0,271.1 763.0,271.1 764.0,271.1 765.0,271.1 766.0,271.1 767.0,271.1 768.0,271.1 769.0,271.1 770.0,271.1 771.0,271.1 772.0,271.1 773.0,271.1 774.0,271.1 775.0,271.1 776.0,271.1 777.0,271.1 778.0,271.1 779.0,271.1 780.0,271.1 781.0,271.1 782.0,271.1 783.0,271.1 784.0,271.1 785.0,271.1 786.0,271.1 787.0,271.1 788.0,271.1 789.0,271.1 790.0,271.1 791.0,271.1 792.0,271.1 793.0,271.1 794.0,271.1 795.0,271.1 796.0,271.1 797.0,271.1 798.0,271.1 799.0,271.1 800.0,271.1 801.0,271.1 802.0,271.1 803.0,271.1 804.0,271.1 805.0,271.1 806.0,271.1 807.0,271.1 808.0,271.0 809.0,271.0 810.0,271.0 811.0,271.0 812.0,271.0 813.0,271.0 814.0,270.9 815.0,270.9 816.0,270.9 817.0,270.9 818.0,270.8 819.0,270.8 820.0,270.8 821.0,270.7 822.0,270.7 823.0,270.7 824.0,270.6 825.0,270.6 826.0,270.6 827.0,270.5 828.0,270.5 829.0,270.5 830.0,270.4 831.0,270.4 832.0,270.3 833.0,270.3 834.0,270.3 835.0,270.2 836.0,270.2 837.0,270.1 838.0,270.1 839.0,270.1 840.0,270.0 841.0,270.0 842.0,269.9 843.0,269.9 844.0,269.8 845.0,269.8 846.0,269.8 847.0,269.7 848.0,269.7 849.0,269.6 850.0,269.6 851.0,269.6 852.0,269.5 853.0,269.5 854.0,269.4 855.0,269.4 856.0,269.3 857.0,269.3 858.0,269.2 859.0,269.2 860.0,269.1 861.0,269.1 862.0,269.0 863.0,268.9 864.0,268.9 865.0,268.8 866.0,268.8 867.0,268.7 868.0,268.6 869.0,268.6 870.0,268.5 871.0,268.5 872.0,268.4 873.0,268.3 874.0,268.3 875.0,268.2 876.0,268.1 877.0,268.0 878.0,268.0 879.0,267.9 880.0,267.8 881.0,267.8 882.0,267.7 883.0,267.6 884.0,267.6 885.0,267.5 886.0,267.4 887.0,267.3 888.0,267.3 889.0,267.2 890.0,267.1 891.0,267.0 892.0,267.0 893.0,266.9 894.0,266.8 895.0,266.8 896.0,266.7 897.0,266.6 898.0,266.5 899.0,266.5 900.0,266.4 901.0,266.3 902.0,266.3 903.0,266.2 904.0,266.1 905.0,266.0 906.0,266.0 907.0,265.9 908.0,265.8 909.0,265.8 910.0,265.7 911.0,265.6 912.0,265.5 913.0,265.5 914.0,265.4 915.0,265.3 916.0,265.2 917.0,265.2 918.0,265.1 919.0,265.0 920.0,264.9 921.0,264.9 922.0,264.8 923.0,264.7 924.0,264.6 925.0,264.6 926.0,264.5 927.0,264.4 928.0,264.3 929.0,264.2 930.0,264.2 931.0,264.1 932.0,264.0 933.0,263.9 934.0,263.8 935.0,263.8 936.0,263.7 937.0,263.6 938.0,263.5 939.0,263.4 940.0,263.4 941.0,263.3 942.0,263.2 943.0,263.1 944.0,263.0 945.0,262.9 946.0,262.8 947.0,262.8 948.0,262.7 949.0,262.6 950.0,262.5 951.0,262.4 952.0,262.3 953.0,262.2 954.0,262.1 955.0,262.1 956.0,262.0 957.0,261.9 958.0,261.8 959.0,261.7 960.0,261.6 961.0,261.5 962.0,261.4 963.0,261.3 964.0,261.2 965.0,261.1 966.0,261.0 967.0,260.9 968.0,260.8 969.0,260.8 970.0,260.7 971.0,260.6 972.0,260.5 973.0,260.4 974.0,260.3 975.0,260.2 976.0,260.0 977.0,259.9 978.0,259.8 979.0,259.7 980.0,259.6 981.0,259.5 982.0,259.4 983.0,259.3 984.0,259.2 985.0,259.1 986.0,259.0 987.0,258.9 987.5,258.8 988.0,258.7 989.0,258.6 990.0,258.5 991.0,258.4 992.0,258.3 993.0,258.2 994.0,258.0 995.0,257.9 996.0,257.8 997.0,257.7 998.0,257.5 999.0,257.4 1000.0,257.3 1001.0,257.2 1002.0,257.0 1003.0,256.9 1004.0,256.8 1005.0,256.6 1006.0,256.5 1007.0,256.4 1008.0,256.2 1009.0,256.1 1010.0,255.9 1011.0,255.8 1012.0,255.7 1013.0,255.5 1014.0,255.4 1015.0,255.2 1016.0,255.0 1017.0,254.9 1018.0,254.7 1019.0,254.6 1020.0,254.4 1021.0,254.2 1022.0,254.1 1023.0,253.9 1024.0,253.7 1025.0,253.5 1026.0,253.3 1027.0,253.1 1028.0,252.9 1029.0,252.7 1030.0,252.5 1031.0,252.3 1032.0,252.1 1033.0,251.9 1034.0,251.7 1035.0,251.5 1036.0,251.3 1037.0,251.0 1038.0,250.8 1039.0,250.6 1040.0,250.3 1041.0,250.1 1041.4,250.0 1042.0,249.9 1043.0,249.6 1044.0,249.4 1045.0,249.1 1046.0,248.8 1047.0,248.6 1048.0,248.3 1049.0,248.0 1050.0,247.7 1051.0,247.5 1052.0,247.2 1053.0,246.9 1054.0,246.6 1055.0,246.3 1056.0,246.0 1057.0,245.7 1058.0,245.4 1059.0,245.1 1060.0,244.8 1061.0,244.4 1062.0,244.1 1063.0,243.8 1064.0,243.5 1065.0,243.2 1066.0,242.9 1067.0,242.5 1067.4,242.4 1068.0,242.2 1069.0,241.9 1070.0,241.5 1071.0,241.2 1072.0,240.9 1073.0,240.5 1074.0,240.2 1075.0,239.8 1076.0,239.5 1077.0,239.1 1078.0,238.8 1079.0,238.4 1080.0,238.0 1081.0,237.7 1082.0,237.3 1083.0,236.9 1084.0,236.6 1085.0,236.2 1086.0,235.8 1087.0,235.4 1088.0,235.1 1089.0,234.7 1090.0,234.3 1091.0,233.9 1092.0,233.6 1093.0,233.2 1094.0,232.8 1095.0,232.4 1096.2,232.0 1097.0,231.7 1098.0,231.3 1099.0,231.0 1100.0,230.6 1101.0,230.2 1102.0,229.9 1103.0,229.5 1104.0,229.2 1105.0,228.8 1106.0,228.4 1107.0,228.1 1108.0,227.7 1109.0,227.3 1110.0,227.0 1111.0,226.6 1112.0,226.2 1113.0,225.8 1114.0,225.4 1115.0,225.0 1116.0,224.6 1117.0,224.2 1118.0,223.8 1119.3,223.2 1120.0,222.9 1121.0,222.5 1122.0,222.0 1123.0,221.6 1124.0,221.2 1125.0,220.7 1126.0,220.3 1127.0,219.8 1128.0,219.3 1129.0,218.8 1130.0,218.3 1131.0,217.7 1132.0,217.1 1133.0,216.5 1133.7,216.0 1135.0,215.1 1136.0,214.3 1137.0,213.4 1138.0,212.4 1139.0,211.4 1140.0,210.3 1141.0,209.1 1142.3,207.4 1143.0,206.4 1144.0,204.8 1145.0,203.0 1146.0,201.0 1147.0,198.7 1148.1,195.8 1149.0,193.1 1150.0,189.4 1151.0,184.5 1151.5,181.4 1152.0,177.8 1153.3,158.4 1154.0,106.5 1155.3,33.0" fill="none" stroke="#fa0000" stroke-width="7.2" stroke-linejoin="round"/>
<path d="M1157.8,33 L1158.2,185.5" fill="none" stroke="#fa0000" stroke-width="5"/>
<g font-family='"Liberation Sans", Arial, Helvetica, sans-serif' fill="#000" text-rendering="geometricPrecision">
<text transform="matrix(1.0340 0 0 1.0132 41.41 1036.22)" font-size="48" stroke="#fff" stroke-width="0.6">200</text>
<text transform="matrix(1.0332 0 0 1.0132 303.17 1036.22)" font-size="48" stroke="#fff" stroke-width="0.6">400</text>
<text transform="matrix(1.0460 0 0 1.0132 563.58 1036.22)" font-size="48" stroke="#fff" stroke-width="0.6">600</text>
<text transform="matrix(1.0251 0 0 1.0132 826.00 1036.22)" font-size="48" stroke="#fff" stroke-width="0.6">800</text>
<text transform="matrix(1.0260 0 0 1.0132 1075.50 1036.22)" font-size="48" stroke="#fff" stroke-width="0.6">1000</text>
<text transform="matrix(1.0237 0 0 0.9893 430.44 393.01)" font-size="44" stroke="#fff" stroke-width="0.3">0</text>
<text transform="matrix(1.0006 0 0 0.9893 555.69 393.01)" font-size="44" stroke="#fff" stroke-width="0.3">500</text>
<text transform="matrix(0.9898 0 0 0.9893 692.59 393.01)" font-size="44" stroke="#fff" stroke-width="0.3">1000</text>
<text transform="matrix(0.9898 0 0 0.9893 840.79 393.01)" font-size="44" stroke="#fff" stroke-width="0.3">1500</text>
<text transform="matrix(1.0060 0 0 0.9893 988.04 393.01)" font-size="44" stroke="#fff" stroke-width="0.3">2000</text>
<text transform="matrix(0.9694 0 0 0.9925 338.86 79.26)" font-size="44" stroke="#fff" stroke-width="0.3">1.0</text>
<text transform="matrix(0.9731 0 0 0.9925 337.54 151.61)" font-size="44" stroke="#fff" stroke-width="0.3">0.5</text>
<text transform="matrix(0.9922 0 0 0.9925 337.50 224.21)" font-size="44" stroke="#fff" stroke-width="0.3">0.0</text>
<text transform="matrix(0.9895 0 0 0.9925 322.09 297.26)" font-size="44" stroke="#fff" stroke-width="0.3">-0.5</text>
<text transform="matrix(1.1156 0 0 1.0116 1214.72 535.00)" font-size="48" stroke="#fff" stroke-width="0.6">(1)</text>
<text transform="matrix(1.1156 0 0 1.0116 1214.72 621.60)" font-size="48" stroke="#fff" stroke-width="0.6">(2)</text>
<text transform="matrix(1.1156 0 0 1.0116 1214.72 721.40)" font-size="48" stroke="#fff" stroke-width="0.6">(3)</text>
<text transform="matrix(1.1156 0 0 1.0116 1214.72 850.00)" font-size="48" stroke="#fff" stroke-width="0.6">(4)</text>
<text transform="matrix(1.1156 0 0 1.0116 1214.72 967.30)" font-size="48" stroke="#fff" stroke-width="0.6">(5)</text>
<text xml:space="preserve"><tspan x="767.28" y="441.00" font-size="38.91" textLength="13.71" lengthAdjust="spacingAndGlyphs" font-style="italic">t</tspan> <tspan x="796.76" y="441.19" font-size="40.40" textLength="11.37" lengthAdjust="spacingAndGlyphs" font-style="italic" stroke="#000" stroke-width="0.4">/</tspan><tspan x="814.16" y="440.78" font-size="38.04" textLength="17.33" lengthAdjust="spacingAndGlyphs" stroke="#000" stroke-width="0.5">s</tspan></text>
<text transform="rotate(-90)" xml:space="preserve"><tspan x="-262.44" y="300.00" font-size="42.91" textLength="18.72" lengthAdjust="spacingAndGlyphs" font-style="italic">E</tspan> <tspan x="-236.23" y="300.46" font-size="43.95" textLength="13.97" lengthAdjust="spacingAndGlyphs" font-style="italic">/</tspan><tspan x="-217.41" y="300.00" font-size="44.22" textLength="28.00" lengthAdjust="spacingAndGlyphs">V</tspan><tspan x="-185.86" y="305.59" font-size="22.75" textLength="104.93" lengthAdjust="spacingAndGlyphs" stroke="#000" stroke-width="0.2">Ag/AgCl</tspan></text>
<text xml:space="preserve"><tspan x="533.63" y="1110.50" font-size="46.95" textLength="26.51" lengthAdjust="spacingAndGlyphs" font-style="italic" stroke="#000" stroke-width="0.3">h</tspan><tspan x="559.53" y="1110.50" font-size="42.61" textLength="19.82" lengthAdjust="spacingAndGlyphs" font-style="italic" font-family='"Liberation Serif", "DejaVu Serif", serif'>ν</tspan> <tspan x="586.80" y="1110.56" font-size="44.08" textLength="12.61" lengthAdjust="spacingAndGlyphs">/</tspan><tspan x="600.50" y="1110.50" font-size="44.18" textLength="54.43" lengthAdjust="spacingAndGlyphs" stroke="#000" stroke-width="0.3">cm</tspan><tspan x="655.20" y="1080.80" font-size="27.20" textLength="20.59" lengthAdjust="spacingAndGlyphs" stroke="#000" stroke-width="0.8">-1</tspan></text>
</g>
</svg>
</body>
</html>
